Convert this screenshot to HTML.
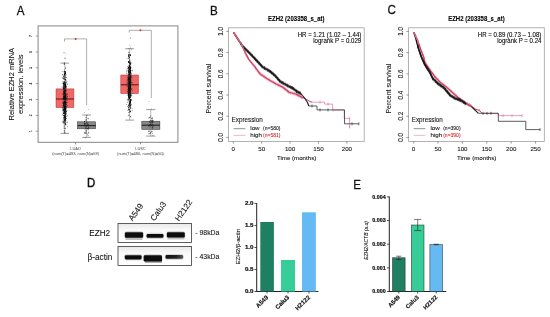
<!DOCTYPE html>
<html><head><meta charset="utf-8"><style>
html,body{margin:0;padding:0;background:#fff;}
body{width:550px;height:317px;overflow:hidden;}
svg{display:block;font-family:"Liberation Sans", sans-serif;filter:blur(0.3px);}
</style></head><body>
<svg width="550" height="317" viewBox="0 0 550 317">
<rect width="550" height="317" fill="#fff"/>
<text transform="translate(16.7 14.6) scale(0.93 1)" font-size="12.5" fill="#111" stroke="#111" stroke-width="0.28">A</text>
<rect x="38.1" y="25.9" width="139.8" height="116.4" fill="none" stroke="#858585" stroke-width="1"/>
<line x1="35.8" y1="36.1" x2="38.1" y2="36.1" stroke="#858585" stroke-width="0.8"/>
<text x="30.8" y="36.1" font-size="3.2" text-anchor="middle" fill="#111" transform="rotate(-90 30.8 36.1)" dominant-baseline="central" stroke="#111" stroke-width="0.08">7</text>
<line x1="35.8" y1="51.95" x2="38.1" y2="51.95" stroke="#858585" stroke-width="0.8"/>
<text x="30.8" y="51.95" font-size="3.2" text-anchor="middle" fill="#111" transform="rotate(-90 30.8 51.95)" dominant-baseline="central" stroke="#111" stroke-width="0.08">6</text>
<line x1="35.8" y1="67.8" x2="38.1" y2="67.8" stroke="#858585" stroke-width="0.8"/>
<text x="30.8" y="67.8" font-size="3.2" text-anchor="middle" fill="#111" transform="rotate(-90 30.8 67.8)" dominant-baseline="central" stroke="#111" stroke-width="0.08">5</text>
<line x1="35.8" y1="83.65" x2="38.1" y2="83.65" stroke="#858585" stroke-width="0.8"/>
<text x="30.8" y="83.65" font-size="3.2" text-anchor="middle" fill="#111" transform="rotate(-90 30.8 83.65)" dominant-baseline="central" stroke="#111" stroke-width="0.08">4</text>
<line x1="35.8" y1="99.5" x2="38.1" y2="99.5" stroke="#858585" stroke-width="0.8"/>
<text x="30.8" y="99.5" font-size="3.2" text-anchor="middle" fill="#111" transform="rotate(-90 30.8 99.5)" dominant-baseline="central" stroke="#111" stroke-width="0.08">3</text>
<line x1="35.8" y1="115.35" x2="38.1" y2="115.35" stroke="#858585" stroke-width="0.8"/>
<text x="30.8" y="115.35" font-size="3.2" text-anchor="middle" fill="#111" transform="rotate(-90 30.8 115.35)" dominant-baseline="central" stroke="#111" stroke-width="0.08">2</text>
<line x1="35.8" y1="131.2" x2="38.1" y2="131.2" stroke="#858585" stroke-width="0.8"/>
<text x="30.8" y="131.2" font-size="3.2" text-anchor="middle" fill="#111" transform="rotate(-90 30.8 131.2)" dominant-baseline="central" stroke="#111" stroke-width="0.08">1</text>
<text x="14.2" y="84.2" font-size="7.5" text-anchor="middle" fill="#111" transform="rotate(-90 14.2 84.2)" stroke="#111" stroke-width="0.08">Relative EZH2 mRNA</text>
<text x="23.3" y="84.2" font-size="7.5" text-anchor="middle" fill="#111" transform="rotate(-90 23.3 84.2)" stroke="#111" stroke-width="0.08">expression. levels</text>
<line x1="75.6" y1="142.3" x2="75.6" y2="144.3" stroke="#6e6e6e" stroke-width="0.8"/>
<text x="75.6" y="150.3" font-size="4.0" text-anchor="middle" fill="#666" stroke="#666" stroke-width="0.05">LUAD</text>
<text x="75.6" y="155.0" font-size="4.0" text-anchor="middle" fill="#666" stroke="#666" stroke-width="0.05">(num(T)=483, num(N)=59)</text>
<line x1="140.5" y1="142.3" x2="140.5" y2="144.3" stroke="#6e6e6e" stroke-width="0.8"/>
<text x="140.5" y="150.3" font-size="4.0" text-anchor="middle" fill="#666" stroke="#666" stroke-width="0.05">LUSC</text>
<text x="140.5" y="155.0" font-size="4.0" text-anchor="middle" fill="#666" stroke="#666" stroke-width="0.05">(num(T)=486, num(N)=50)</text>
<polyline points="64.5,41.5 64.5,38.9 86.6,38.9 86.6,105" fill="none" stroke="#777" stroke-width="0.6"/>
<circle cx="75.7" cy="38.9" r="1" fill="#e03030"/>
<polyline points="129.2,32.5 129.2,30.3 151.3,30.3 151.3,98" fill="none" stroke="#777" stroke-width="0.6"/>
<circle cx="140.4" cy="30.3" r="1" fill="#e03030"/>
<line x1="64.8" y1="63.1" x2="64.8" y2="88.9" stroke="#777" stroke-width="0.5"/>
<line x1="64.8" y1="107.6" x2="64.8" y2="133.4" stroke="#777" stroke-width="0.5"/>
<line x1="60.5" y1="63.1" x2="69.1" y2="63.1" stroke="#555" stroke-width="0.6"/>
<line x1="60.5" y1="133.4" x2="69.1" y2="133.4" stroke="#555" stroke-width="0.6"/>
<rect x="56" y="88.9" width="17.900000000000006" height="18.69999999999999" fill="#f26666" stroke="#a03838" stroke-width="0.5"/>
<line x1="56" y1="99" x2="73.9" y2="99" stroke="#6a1818" stroke-width="1.1"/>
<line x1="86.6" y1="115.0" x2="86.6" y2="121.8" stroke="#777" stroke-width="0.5"/>
<line x1="86.6" y1="128.8" x2="86.6" y2="137.4" stroke="#777" stroke-width="0.5"/>
<line x1="82.3" y1="115.0" x2="90.89999999999999" y2="115.0" stroke="#555" stroke-width="0.6"/>
<line x1="82.3" y1="137.4" x2="90.89999999999999" y2="137.4" stroke="#555" stroke-width="0.6"/>
<rect x="77.5" y="121.8" width="18.200000000000003" height="7.000000000000014" fill="#888888" stroke="#333" stroke-width="0.5"/>
<line x1="77.5" y1="125.6" x2="95.7" y2="125.6" stroke="#222" stroke-width="1.1"/>
<line x1="129.6" y1="48.7" x2="129.6" y2="75.0" stroke="#777" stroke-width="0.5"/>
<line x1="129.6" y1="93.6" x2="129.6" y2="120.1" stroke="#777" stroke-width="0.5"/>
<line x1="125.3" y1="48.7" x2="133.9" y2="48.7" stroke="#555" stroke-width="0.6"/>
<line x1="125.3" y1="120.1" x2="133.9" y2="120.1" stroke="#555" stroke-width="0.6"/>
<rect x="120.8" y="75.0" width="17.700000000000003" height="18.599999999999994" fill="#f26666" stroke="#a03838" stroke-width="0.5"/>
<line x1="120.8" y1="84.8" x2="138.5" y2="84.8" stroke="#6a1818" stroke-width="1.1"/>
<line x1="150.8" y1="109.6" x2="150.8" y2="121.2" stroke="#777" stroke-width="0.5"/>
<line x1="150.8" y1="129.4" x2="150.8" y2="136.1" stroke="#777" stroke-width="0.5"/>
<line x1="146.20000000000002" y1="109.6" x2="155.4" y2="109.6" stroke="#555" stroke-width="0.6"/>
<line x1="146.20000000000002" y1="136.1" x2="155.4" y2="136.1" stroke="#555" stroke-width="0.6"/>
<rect x="141.8" y="121.2" width="18.099999999999994" height="8.200000000000003" fill="#888888" stroke="#333" stroke-width="0.5"/>
<line x1="141.8" y1="125.2" x2="159.9" y2="125.2" stroke="#222" stroke-width="1.1"/>
<circle cx="65.16" cy="95.46" r="0.5" fill="#000"/><circle cx="63.77" cy="106.08" r="0.5" fill="#000"/><circle cx="63.74" cy="86.12" r="0.5" fill="#000"/><circle cx="64.82" cy="96.05" r="0.5" fill="#000"/><circle cx="63.77" cy="113.36" r="0.5" fill="#000"/><circle cx="63.82" cy="102.45" r="0.5" fill="#000"/><circle cx="63.90" cy="75.92" r="0.5" fill="#000"/><circle cx="64.14" cy="110.85" r="0.5" fill="#000"/><circle cx="64.99" cy="75.57" r="0.5" fill="#000"/><circle cx="64.55" cy="74.84" r="0.5" fill="#000"/><circle cx="65.66" cy="103.23" r="0.5" fill="#000"/><circle cx="64.30" cy="98.36" r="0.5" fill="#000"/><circle cx="64.34" cy="103.28" r="0.5" fill="#000"/><circle cx="65.56" cy="104.46" r="0.5" fill="#000"/><circle cx="65.13" cy="106.71" r="0.5" fill="#000"/><circle cx="64.49" cy="115.58" r="0.5" fill="#000"/><circle cx="63.74" cy="94.23" r="0.5" fill="#000"/><circle cx="64.09" cy="97.53" r="0.5" fill="#000"/><circle cx="64.35" cy="92.80" r="0.5" fill="#000"/><circle cx="65.01" cy="85.74" r="0.5" fill="#000"/><circle cx="65.51" cy="87.81" r="0.5" fill="#000"/><circle cx="65.28" cy="102.39" r="0.5" fill="#000"/><circle cx="64.86" cy="99.67" r="0.5" fill="#000"/><circle cx="65.70" cy="117.09" r="0.5" fill="#000"/><circle cx="65.95" cy="97.53" r="0.5" fill="#000"/><circle cx="63.88" cy="87.68" r="0.5" fill="#000"/><circle cx="63.96" cy="78.71" r="0.5" fill="#000"/><circle cx="64.77" cy="110.47" r="0.5" fill="#000"/><circle cx="65.43" cy="118.95" r="0.5" fill="#000"/><circle cx="64.98" cy="104.02" r="0.5" fill="#000"/><circle cx="65.27" cy="107.53" r="0.5" fill="#000"/><circle cx="65.03" cy="90.53" r="0.5" fill="#000"/><circle cx="65.62" cy="85.60" r="0.5" fill="#000"/><circle cx="65.87" cy="91.64" r="0.5" fill="#000"/><circle cx="63.75" cy="78.81" r="0.5" fill="#000"/><circle cx="65.28" cy="102.32" r="0.5" fill="#000"/><circle cx="65.57" cy="72.68" r="0.5" fill="#000"/><circle cx="64.28" cy="64.12" r="0.5" fill="#000"/><circle cx="63.65" cy="83.49" r="0.5" fill="#000"/><circle cx="64.71" cy="112.54" r="0.5" fill="#000"/><circle cx="63.74" cy="102.40" r="0.5" fill="#000"/><circle cx="65.44" cy="105.02" r="0.5" fill="#000"/><circle cx="64.54" cy="106.18" r="0.5" fill="#000"/><circle cx="65.69" cy="106.59" r="0.5" fill="#000"/><circle cx="64.92" cy="112.23" r="0.5" fill="#000"/><circle cx="65.72" cy="106.34" r="0.5" fill="#000"/><circle cx="64.27" cy="110.67" r="0.5" fill="#000"/><circle cx="64.60" cy="73.91" r="0.5" fill="#000"/><circle cx="65.90" cy="80.84" r="0.5" fill="#000"/><circle cx="63.96" cy="121.30" r="0.5" fill="#000"/><circle cx="64.16" cy="103.50" r="0.5" fill="#000"/><circle cx="64.76" cy="108.00" r="0.5" fill="#000"/><circle cx="63.61" cy="89.84" r="0.5" fill="#000"/><circle cx="64.61" cy="93.26" r="0.5" fill="#000"/><circle cx="65.89" cy="86.80" r="0.5" fill="#000"/><circle cx="65.26" cy="112.11" r="0.5" fill="#000"/><circle cx="65.22" cy="79.88" r="0.5" fill="#000"/><circle cx="63.73" cy="97.13" r="0.5" fill="#000"/><circle cx="65.70" cy="118.46" r="0.5" fill="#000"/><circle cx="65.51" cy="84.78" r="0.5" fill="#000"/><circle cx="63.85" cy="88.10" r="0.5" fill="#000"/><circle cx="65.12" cy="107.75" r="0.5" fill="#000"/><circle cx="64.10" cy="103.78" r="0.5" fill="#000"/><circle cx="63.99" cy="100.97" r="0.5" fill="#000"/><circle cx="63.60" cy="96.56" r="0.5" fill="#000"/><circle cx="63.96" cy="102.84" r="0.5" fill="#000"/><circle cx="63.66" cy="109.58" r="0.5" fill="#000"/><circle cx="65.70" cy="106.84" r="0.5" fill="#000"/><circle cx="64.21" cy="93.08" r="0.5" fill="#000"/><circle cx="64.43" cy="93.84" r="0.5" fill="#000"/><circle cx="65.64" cy="94.34" r="0.5" fill="#000"/><circle cx="65.98" cy="104.34" r="0.5" fill="#000"/><circle cx="63.81" cy="83.43" r="0.5" fill="#000"/><circle cx="63.85" cy="102.38" r="0.5" fill="#000"/><circle cx="65.59" cy="93.03" r="0.5" fill="#000"/><circle cx="63.99" cy="108.07" r="0.5" fill="#000"/><circle cx="64.87" cy="132.66" r="0.5" fill="#000"/><circle cx="63.95" cy="103.92" r="0.5" fill="#000"/><circle cx="64.87" cy="95.88" r="0.5" fill="#000"/><circle cx="65.95" cy="98.13" r="0.5" fill="#000"/><circle cx="64.23" cy="112.97" r="0.5" fill="#000"/><circle cx="64.48" cy="82.81" r="0.5" fill="#000"/><circle cx="64.88" cy="110.86" r="0.5" fill="#000"/><circle cx="65.47" cy="119.65" r="0.5" fill="#000"/><circle cx="65.55" cy="94.28" r="0.5" fill="#000"/><circle cx="65.96" cy="107.63" r="0.5" fill="#000"/><circle cx="65.56" cy="114.08" r="0.5" fill="#000"/><circle cx="65.38" cy="78.95" r="0.5" fill="#000"/><circle cx="64.45" cy="101.44" r="0.5" fill="#000"/><circle cx="63.67" cy="115.55" r="0.5" fill="#000"/><circle cx="64.22" cy="110.04" r="0.5" fill="#000"/><circle cx="65.26" cy="100.96" r="0.5" fill="#000"/><circle cx="65.85" cy="113.52" r="0.5" fill="#000"/><circle cx="65.97" cy="94.93" r="0.5" fill="#000"/><circle cx="64.13" cy="111.67" r="0.5" fill="#000"/><circle cx="64.14" cy="95.32" r="0.5" fill="#000"/><circle cx="65.10" cy="102.08" r="0.5" fill="#000"/><circle cx="65.76" cy="107.85" r="0.5" fill="#000"/><circle cx="65.17" cy="107.52" r="0.5" fill="#000"/><circle cx="65.52" cy="85.66" r="0.5" fill="#000"/><circle cx="65.78" cy="116.54" r="0.5" fill="#000"/><circle cx="65.48" cy="109.34" r="0.5" fill="#000"/><circle cx="64.03" cy="99.01" r="0.5" fill="#000"/><circle cx="65.49" cy="83.20" r="0.5" fill="#000"/><circle cx="65.93" cy="86.67" r="0.5" fill="#000"/><circle cx="64.55" cy="120.61" r="0.5" fill="#000"/><circle cx="65.34" cy="71.68" r="0.5" fill="#000"/><circle cx="64.01" cy="118.48" r="0.5" fill="#000"/><circle cx="65.77" cy="104.54" r="0.5" fill="#000"/><circle cx="65.54" cy="104.68" r="0.5" fill="#000"/><circle cx="65.95" cy="114.74" r="0.5" fill="#000"/><circle cx="65.18" cy="119.60" r="0.5" fill="#000"/><circle cx="63.91" cy="88.69" r="0.5" fill="#000"/><circle cx="63.63" cy="113.11" r="0.5" fill="#000"/><circle cx="64.86" cy="118.73" r="0.5" fill="#000"/><circle cx="65.84" cy="95.35" r="0.5" fill="#000"/><circle cx="65.58" cy="73.32" r="0.5" fill="#000"/><circle cx="64.11" cy="110.34" r="0.5" fill="#000"/><circle cx="64.18" cy="98.87" r="0.5" fill="#000"/><circle cx="65.01" cy="110.53" r="0.5" fill="#000"/><circle cx="63.91" cy="98.15" r="0.5" fill="#000"/><circle cx="65.78" cy="113.41" r="0.5" fill="#000"/><circle cx="65.00" cy="89.69" r="0.5" fill="#000"/><circle cx="65.77" cy="111.19" r="0.5" fill="#000"/><circle cx="64.80" cy="71.81" r="0.5" fill="#000"/><circle cx="64.88" cy="113.81" r="0.5" fill="#000"/><circle cx="64.66" cy="96.34" r="0.5" fill="#000"/><circle cx="64.04" cy="98.60" r="0.5" fill="#000"/><circle cx="64.01" cy="123.81" r="0.5" fill="#000"/><circle cx="64.74" cy="99.61" r="0.5" fill="#000"/><circle cx="64.38" cy="96.26" r="0.5" fill="#000"/><circle cx="64.84" cy="81.55" r="0.5" fill="#000"/><circle cx="63.85" cy="76.20" r="0.5" fill="#000"/><circle cx="64.94" cy="90.72" r="0.5" fill="#000"/><circle cx="65.45" cy="99.11" r="0.5" fill="#000"/><circle cx="64.82" cy="110.15" r="0.5" fill="#000"/><circle cx="65.79" cy="77.34" r="0.5" fill="#000"/><circle cx="64.66" cy="90.15" r="0.5" fill="#000"/><circle cx="64.83" cy="86.50" r="0.5" fill="#000"/><circle cx="65.26" cy="88.32" r="0.5" fill="#000"/><circle cx="64.75" cy="82.66" r="0.5" fill="#000"/><circle cx="65.86" cy="104.04" r="0.5" fill="#000"/><circle cx="65.86" cy="90.11" r="0.5" fill="#000"/><circle cx="64.22" cy="72.10" r="0.5" fill="#000"/><circle cx="65.62" cy="68.11" r="0.5" fill="#000"/><circle cx="63.93" cy="86.88" r="0.5" fill="#000"/><circle cx="63.77" cy="109.80" r="0.5" fill="#000"/><circle cx="64.18" cy="109.36" r="0.5" fill="#000"/><circle cx="65.48" cy="117.47" r="0.5" fill="#000"/><circle cx="65.75" cy="108.14" r="0.5" fill="#000"/><circle cx="65.18" cy="111.42" r="0.5" fill="#000"/><circle cx="63.94" cy="117.14" r="0.5" fill="#000"/><circle cx="64.13" cy="125.88" r="0.5" fill="#000"/><circle cx="65.89" cy="74.65" r="0.5" fill="#000"/><circle cx="65.98" cy="86.15" r="0.5" fill="#000"/><circle cx="65.60" cy="108.55" r="0.5" fill="#000"/><circle cx="64.84" cy="106.77" r="0.5" fill="#000"/><circle cx="64.41" cy="111.50" r="0.5" fill="#000"/><circle cx="65.33" cy="103.06" r="0.5" fill="#000"/><circle cx="63.65" cy="110.43" r="0.5" fill="#000"/><circle cx="63.64" cy="84.93" r="0.5" fill="#000"/><circle cx="64.40" cy="94.03" r="0.5" fill="#000"/><circle cx="63.75" cy="87.18" r="0.5" fill="#000"/><circle cx="65.96" cy="87.34" r="0.5" fill="#000"/><circle cx="63.85" cy="107.83" r="0.5" fill="#000"/><circle cx="64.24" cy="63.08" r="0.5" fill="#000"/><circle cx="64.25" cy="122.33" r="0.5" fill="#000"/><circle cx="63.91" cy="104.93" r="0.5" fill="#000"/><circle cx="65.57" cy="72.07" r="0.5" fill="#000"/><circle cx="64.22" cy="113.31" r="0.5" fill="#000"/><circle cx="64.97" cy="117.36" r="0.5" fill="#000"/><circle cx="65.28" cy="124.06" r="0.5" fill="#000"/><circle cx="65.25" cy="103.03" r="0.5" fill="#000"/><circle cx="64.62" cy="101.54" r="0.5" fill="#000"/><circle cx="65.12" cy="128.37" r="0.5" fill="#000"/><circle cx="65.52" cy="113.37" r="0.5" fill="#000"/><circle cx="63.76" cy="122.59" r="0.5" fill="#000"/><circle cx="65.67" cy="112.70" r="0.5" fill="#000"/><circle cx="64.93" cy="86.92" r="0.5" fill="#000"/><circle cx="65.82" cy="102.61" r="0.5" fill="#000"/><circle cx="64.86" cy="98.18" r="0.5" fill="#000"/><circle cx="64.17" cy="106.24" r="0.5" fill="#000"/><circle cx="63.72" cy="105.35" r="0.5" fill="#000"/><circle cx="64.08" cy="104.22" r="0.5" fill="#000"/><circle cx="65.42" cy="94.51" r="0.5" fill="#000"/><circle cx="64.30" cy="109.93" r="0.5" fill="#000"/><circle cx="64.43" cy="90.33" r="0.5" fill="#000"/><circle cx="63.64" cy="99.00" r="0.5" fill="#000"/><circle cx="65.36" cy="98.99" r="0.5" fill="#000"/><circle cx="64.92" cy="101.44" r="0.5" fill="#000"/><circle cx="65.84" cy="104.84" r="0.5" fill="#000"/><circle cx="63.86" cy="113.60" r="0.5" fill="#000"/><circle cx="64.79" cy="105.18" r="0.5" fill="#000"/><circle cx="65.60" cy="85.62" r="0.5" fill="#000"/><circle cx="65.25" cy="86.11" r="0.5" fill="#000"/><circle cx="65.96" cy="109.25" r="0.5" fill="#000"/><circle cx="65.30" cy="84.60" r="0.5" fill="#000"/><circle cx="65.13" cy="120.86" r="0.5" fill="#000"/><circle cx="63.73" cy="88.43" r="0.5" fill="#000"/><circle cx="63.91" cy="106.22" r="0.5" fill="#000"/><circle cx="64.21" cy="119.55" r="0.5" fill="#000"/><circle cx="63.99" cy="108.79" r="0.5" fill="#000"/><circle cx="65.69" cy="121.92" r="0.5" fill="#000"/><circle cx="65.21" cy="112.45" r="0.5" fill="#000"/><circle cx="64.30" cy="96.94" r="0.5" fill="#000"/><circle cx="64.70" cy="109.11" r="0.5" fill="#000"/><circle cx="64.23" cy="107.26" r="0.5" fill="#000"/><circle cx="65.91" cy="111.58" r="0.5" fill="#000"/><circle cx="64.19" cy="116.18" r="0.5" fill="#000"/><circle cx="65.92" cy="96.02" r="0.5" fill="#000"/><circle cx="63.60" cy="94.25" r="0.5" fill="#000"/><circle cx="64.52" cy="111.11" r="0.5" fill="#000"/><circle cx="64.08" cy="82.83" r="0.5" fill="#000"/><circle cx="64.81" cy="101.60" r="0.5" fill="#000"/><circle cx="63.82" cy="109.84" r="0.5" fill="#000"/><circle cx="64.56" cy="99.34" r="0.5" fill="#000"/><circle cx="64.33" cy="101.85" r="0.5" fill="#000"/><circle cx="64.16" cy="99.76" r="0.5" fill="#000"/><circle cx="65.40" cy="84.40" r="0.5" fill="#000"/><circle cx="65.18" cy="90.29" r="0.5" fill="#000"/><circle cx="64.53" cy="92.96" r="0.5" fill="#000"/><circle cx="64.38" cy="71.17" r="0.5" fill="#000"/><circle cx="65.34" cy="106.85" r="0.5" fill="#000"/><circle cx="65.14" cy="98.24" r="0.5" fill="#000"/><circle cx="65.74" cy="124.32" r="0.5" fill="#000"/><circle cx="65.11" cy="106.15" r="0.5" fill="#000"/><circle cx="63.93" cy="96.43" r="0.5" fill="#000"/><circle cx="64.86" cy="73.80" r="0.5" fill="#000"/><circle cx="65.53" cy="72.72" r="0.5" fill="#000"/><circle cx="65.58" cy="98.28" r="0.5" fill="#000"/><circle cx="65.24" cy="73.71" r="0.5" fill="#000"/><circle cx="65.26" cy="84.25" r="0.5" fill="#000"/><circle cx="63.92" cy="99.44" r="0.5" fill="#000"/><circle cx="64.47" cy="102.46" r="0.5" fill="#000"/><circle cx="64.94" cy="119.81" r="0.5" fill="#000"/><circle cx="65.11" cy="115.13" r="0.5" fill="#000"/><circle cx="64.77" cy="84.31" r="0.5" fill="#000"/><circle cx="63.61" cy="84.09" r="0.5" fill="#000"/><circle cx="64.81" cy="105.79" r="0.5" fill="#000"/><circle cx="64.88" cy="77.02" r="0.5" fill="#000"/><circle cx="65.37" cy="96.24" r="0.5" fill="#000"/><circle cx="64.21" cy="94.69" r="0.5" fill="#000"/><circle cx="65.35" cy="108.71" r="0.5" fill="#000"/><circle cx="64.09" cy="103.91" r="0.5" fill="#000"/><circle cx="64.79" cy="96.59" r="0.5" fill="#000"/><circle cx="65.24" cy="87.30" r="0.5" fill="#000"/><circle cx="65.44" cy="109.64" r="0.5" fill="#000"/><circle cx="63.79" cy="84.26" r="0.5" fill="#000"/><circle cx="63.95" cy="85.67" r="0.5" fill="#000"/><circle cx="64.33" cy="98.43" r="0.5" fill="#000"/><circle cx="64.96" cy="121.83" r="0.5" fill="#000"/><circle cx="64.25" cy="103.89" r="0.5" fill="#000"/><circle cx="65.21" cy="99.38" r="0.5" fill="#000"/><circle cx="64.30" cy="91.61" r="0.5" fill="#000"/><circle cx="64.84" cy="79.57" r="0.5" fill="#000"/><circle cx="63.88" cy="83.86" r="0.5" fill="#000"/><circle cx="65.74" cy="102.42" r="0.5" fill="#000"/><circle cx="65.85" cy="111.01" r="0.5" fill="#000"/><circle cx="65.57" cy="114.26" r="0.5" fill="#000"/><circle cx="65.92" cy="100.69" r="0.5" fill="#000"/><circle cx="64.10" cy="88.59" r="0.5" fill="#000"/><circle cx="65.87" cy="102.42" r="0.5" fill="#000"/><circle cx="63.94" cy="103.47" r="0.5" fill="#000"/><circle cx="64.86" cy="116.73" r="0.5" fill="#000"/><circle cx="65.57" cy="106.07" r="0.5" fill="#000"/><circle cx="64.82" cy="96.84" r="0.5" fill="#000"/><circle cx="64.16" cy="115.36" r="0.5" fill="#000"/><circle cx="65.75" cy="84.91" r="0.5" fill="#000"/><circle cx="63.61" cy="95.91" r="0.5" fill="#000"/><circle cx="64.78" cy="99.27" r="0.5" fill="#000"/><circle cx="63.94" cy="87.81" r="0.5" fill="#000"/><circle cx="64.43" cy="102.58" r="0.5" fill="#000"/><circle cx="63.60" cy="88.30" r="0.5" fill="#000"/><circle cx="65.40" cy="123.28" r="0.5" fill="#000"/><circle cx="65.82" cy="102.72" r="0.5" fill="#000"/><circle cx="65.31" cy="93.06" r="0.5" fill="#000"/><circle cx="64.49" cy="108.34" r="0.5" fill="#000"/><circle cx="64.54" cy="92.36" r="0.5" fill="#000"/><circle cx="64.47" cy="117.48" r="0.5" fill="#000"/><circle cx="64.63" cy="98.86" r="0.5" fill="#000"/><circle cx="63.84" cy="98.31" r="0.5" fill="#000"/><circle cx="65.60" cy="103.30" r="0.5" fill="#000"/><circle cx="64.20" cy="91.80" r="0.5" fill="#000"/><circle cx="64.24" cy="130.63" r="0.5" fill="#000"/><circle cx="64.50" cy="90.03" r="0.5" fill="#000"/><circle cx="65.89" cy="98.38" r="0.5" fill="#000"/><circle cx="65.11" cy="117.92" r="0.5" fill="#000"/><circle cx="65.79" cy="82.17" r="0.5" fill="#000"/><circle cx="65.33" cy="115.29" r="0.5" fill="#000"/><circle cx="63.72" cy="92.63" r="0.5" fill="#000"/><circle cx="65.41" cy="97.32" r="0.5" fill="#000"/><circle cx="65.15" cy="83.93" r="0.5" fill="#000"/><circle cx="65.82" cy="98.01" r="0.5" fill="#000"/><circle cx="63.91" cy="103.28" r="0.5" fill="#000"/><circle cx="64.31" cy="86.48" r="0.5" fill="#000"/><circle cx="65.37" cy="101.21" r="0.5" fill="#000"/><circle cx="65.17" cy="109.63" r="0.5" fill="#000"/><circle cx="64.32" cy="97.40" r="0.5" fill="#000"/><circle cx="64.00" cy="86.02" r="0.5" fill="#000"/><circle cx="63.99" cy="94.11" r="0.5" fill="#000"/><circle cx="64.79" cy="106.88" r="0.5" fill="#000"/><circle cx="64.13" cy="128.07" r="0.5" fill="#000"/><circle cx="64.68" cy="73.14" r="0.5" fill="#000"/><circle cx="63.82" cy="104.79" r="0.5" fill="#000"/><circle cx="64.42" cy="105.96" r="0.5" fill="#000"/><circle cx="64.22" cy="107.61" r="0.5" fill="#000"/><circle cx="64.97" cy="104.55" r="0.5" fill="#000"/><circle cx="64.59" cy="116.51" r="0.5" fill="#000"/><circle cx="64.59" cy="84.00" r="0.5" fill="#000"/><circle cx="64.41" cy="85.68" r="0.5" fill="#000"/><circle cx="63.75" cy="96.96" r="0.5" fill="#000"/><circle cx="63.90" cy="92.76" r="0.5" fill="#000"/><circle cx="65.67" cy="79.48" r="0.5" fill="#000"/><circle cx="64.12" cy="98.58" r="0.5" fill="#000"/><circle cx="64.56" cy="97.62" r="0.5" fill="#000"/><circle cx="64.67" cy="109.38" r="0.5" fill="#000"/><circle cx="65.69" cy="124.80" r="0.5" fill="#000"/><circle cx="63.65" cy="91.32" r="0.5" fill="#000"/><circle cx="65.75" cy="120.33" r="0.5" fill="#000"/><circle cx="64.74" cy="103.38" r="0.5" fill="#000"/><circle cx="64.54" cy="98.78" r="0.5" fill="#000"/><circle cx="65.82" cy="98.86" r="0.5" fill="#000"/><circle cx="65.93" cy="111.46" r="0.5" fill="#000"/><circle cx="64.20" cy="74.77" r="0.5" fill="#000"/><circle cx="64.85" cy="105.21" r="0.5" fill="#000"/><circle cx="65.24" cy="104.08" r="0.5" fill="#000"/><circle cx="65.15" cy="119.68" r="0.5" fill="#000"/><circle cx="65.44" cy="91.04" r="0.5" fill="#000"/><circle cx="63.69" cy="82.09" r="0.5" fill="#000"/><circle cx="65.48" cy="103.65" r="0.5" fill="#000"/><circle cx="65.81" cy="53.79" r="0.4" fill="#555"/><circle cx="64.33" cy="58.75" r="0.4" fill="#555"/><circle cx="64.20" cy="52.54" r="0.4" fill="#555"/><circle cx="65.28" cy="58.64" r="0.4" fill="#555"/><circle cx="63.77" cy="52.35" r="0.4" fill="#555"/><circle cx="65.00" cy="57.29" r="0.4" fill="#555"/>
<circle cx="65.37" cy="91.48" r="0.42" fill="#333"/><circle cx="62.06" cy="105.37" r="0.42" fill="#333"/><circle cx="67.37" cy="94.10" r="0.42" fill="#333"/><circle cx="65.61" cy="113.59" r="0.42" fill="#333"/><circle cx="63.31" cy="110.72" r="0.42" fill="#333"/><circle cx="63.38" cy="88.51" r="0.42" fill="#333"/><circle cx="63.72" cy="119.97" r="0.42" fill="#333"/><circle cx="62.12" cy="93.70" r="0.42" fill="#333"/><circle cx="64.35" cy="78.25" r="0.42" fill="#333"/><circle cx="63.44" cy="99.22" r="0.42" fill="#333"/><circle cx="63.27" cy="83.35" r="0.42" fill="#333"/><circle cx="62.19" cy="71.62" r="0.42" fill="#333"/><circle cx="65.82" cy="91.40" r="0.42" fill="#333"/><circle cx="63.11" cy="111.31" r="0.42" fill="#333"/><circle cx="64.83" cy="105.62" r="0.42" fill="#333"/><circle cx="63.15" cy="77.28" r="0.42" fill="#333"/><circle cx="66.59" cy="110.76" r="0.42" fill="#333"/><circle cx="63.29" cy="96.75" r="0.42" fill="#333"/><circle cx="63.65" cy="103.18" r="0.42" fill="#333"/><circle cx="67.33" cy="122.04" r="0.42" fill="#333"/><circle cx="63.25" cy="90.08" r="0.42" fill="#333"/><circle cx="64.34" cy="99.24" r="0.42" fill="#333"/><circle cx="62.82" cy="81.86" r="0.42" fill="#333"/><circle cx="64.20" cy="69.90" r="0.42" fill="#333"/><circle cx="62.79" cy="107.64" r="0.42" fill="#333"/><circle cx="64.20" cy="103.62" r="0.42" fill="#333"/><circle cx="67.03" cy="100.56" r="0.42" fill="#333"/><circle cx="67.59" cy="115.75" r="0.42" fill="#333"/><circle cx="67.22" cy="83.97" r="0.42" fill="#333"/><circle cx="67.24" cy="94.76" r="0.42" fill="#333"/><circle cx="66.18" cy="106.80" r="0.42" fill="#333"/><circle cx="64.12" cy="119.06" r="0.42" fill="#333"/><circle cx="64.09" cy="103.07" r="0.42" fill="#333"/><circle cx="62.02" cy="94.86" r="0.42" fill="#333"/><circle cx="63.57" cy="106.35" r="0.42" fill="#333"/><circle cx="62.69" cy="78.43" r="0.42" fill="#333"/><circle cx="67.40" cy="126.77" r="0.42" fill="#333"/><circle cx="66.60" cy="102.44" r="0.42" fill="#333"/><circle cx="66.60" cy="111.55" r="0.42" fill="#333"/><circle cx="64.65" cy="94.99" r="0.42" fill="#333"/><circle cx="64.09" cy="100.81" r="0.42" fill="#333"/><circle cx="64.04" cy="106.94" r="0.42" fill="#333"/><circle cx="67.02" cy="94.60" r="0.42" fill="#333"/><circle cx="66.55" cy="112.99" r="0.42" fill="#333"/><circle cx="66.29" cy="101.69" r="0.42" fill="#333"/><circle cx="62.35" cy="102.57" r="0.42" fill="#333"/><circle cx="67.15" cy="99.93" r="0.42" fill="#333"/><circle cx="67.03" cy="97.99" r="0.42" fill="#333"/><circle cx="63.90" cy="121.95" r="0.42" fill="#333"/><circle cx="65.46" cy="94.13" r="0.42" fill="#333"/><circle cx="63.77" cy="97.32" r="0.42" fill="#333"/><circle cx="63.54" cy="120.93" r="0.42" fill="#333"/><circle cx="67.13" cy="122.25" r="0.42" fill="#333"/><circle cx="65.55" cy="99.55" r="0.42" fill="#333"/><circle cx="63.31" cy="101.88" r="0.42" fill="#333"/><circle cx="64.66" cy="97.93" r="0.42" fill="#333"/><circle cx="64.16" cy="132.10" r="0.42" fill="#333"/><circle cx="63.41" cy="89.78" r="0.42" fill="#333"/><circle cx="67.20" cy="84.38" r="0.42" fill="#333"/><circle cx="63.02" cy="105.88" r="0.42" fill="#333"/><circle cx="66.61" cy="106.36" r="0.42" fill="#333"/><circle cx="66.33" cy="77.54" r="0.42" fill="#333"/><circle cx="63.79" cy="89.35" r="0.42" fill="#333"/><circle cx="64.03" cy="91.30" r="0.42" fill="#333"/><circle cx="63.10" cy="100.13" r="0.42" fill="#333"/><circle cx="66.22" cy="93.49" r="0.42" fill="#333"/><circle cx="62.19" cy="99.09" r="0.42" fill="#333"/><circle cx="65.09" cy="104.07" r="0.42" fill="#333"/><circle cx="66.95" cy="81.22" r="0.42" fill="#333"/><circle cx="62.47" cy="109.84" r="0.42" fill="#333"/><circle cx="62.54" cy="98.17" r="0.42" fill="#333"/><circle cx="64.50" cy="77.21" r="0.42" fill="#333"/><circle cx="63.31" cy="99.21" r="0.42" fill="#333"/><circle cx="65.78" cy="82.29" r="0.42" fill="#333"/><circle cx="66.19" cy="108.62" r="0.42" fill="#333"/><circle cx="62.68" cy="110.72" r="0.42" fill="#333"/><circle cx="66.71" cy="82.21" r="0.42" fill="#333"/><circle cx="64.09" cy="94.13" r="0.42" fill="#333"/><circle cx="66.13" cy="116.25" r="0.42" fill="#333"/><circle cx="63.37" cy="102.28" r="0.42" fill="#333"/><circle cx="62.86" cy="108.92" r="0.42" fill="#333"/><circle cx="63.83" cy="112.59" r="0.42" fill="#333"/><circle cx="64.22" cy="86.89" r="0.42" fill="#333"/><circle cx="63.30" cy="115.46" r="0.42" fill="#333"/><circle cx="66.53" cy="98.22" r="0.42" fill="#333"/><circle cx="62.57" cy="74.75" r="0.42" fill="#333"/><circle cx="64.66" cy="64.11" r="0.42" fill="#333"/><circle cx="67.12" cy="110.17" r="0.42" fill="#333"/><circle cx="62.23" cy="74.92" r="0.42" fill="#333"/><circle cx="63.06" cy="97.11" r="0.42" fill="#333"/><circle cx="67.45" cy="105.72" r="0.42" fill="#333"/><circle cx="64.08" cy="71.31" r="0.42" fill="#333"/><circle cx="66.85" cy="83.04" r="0.42" fill="#333"/><circle cx="66.36" cy="88.80" r="0.42" fill="#333"/><circle cx="67.30" cy="102.38" r="0.42" fill="#333"/><circle cx="65.47" cy="113.68" r="0.42" fill="#333"/><circle cx="63.22" cy="110.50" r="0.42" fill="#333"/><circle cx="63.14" cy="93.81" r="0.42" fill="#333"/><circle cx="63.43" cy="104.62" r="0.42" fill="#333"/><circle cx="63.14" cy="82.68" r="0.42" fill="#333"/><circle cx="62.06" cy="87.23" r="0.42" fill="#333"/><circle cx="63.04" cy="89.27" r="0.42" fill="#333"/><circle cx="63.75" cy="117.45" r="0.42" fill="#333"/><circle cx="65.07" cy="106.12" r="0.42" fill="#333"/><circle cx="62.35" cy="122.62" r="0.42" fill="#333"/><circle cx="65.08" cy="110.17" r="0.42" fill="#333"/><circle cx="65.58" cy="107.26" r="0.42" fill="#333"/><circle cx="65.89" cy="105.96" r="0.42" fill="#333"/><circle cx="64.29" cy="103.49" r="0.42" fill="#333"/><circle cx="67.34" cy="96.53" r="0.42" fill="#333"/><circle cx="63.75" cy="110.62" r="0.42" fill="#333"/><circle cx="64.33" cy="87.10" r="0.42" fill="#333"/><circle cx="66.84" cy="93.71" r="0.42" fill="#333"/><circle cx="63.10" cy="112.17" r="0.42" fill="#333"/><circle cx="66.08" cy="98.72" r="0.42" fill="#333"/><circle cx="67.05" cy="99.43" r="0.42" fill="#333"/><circle cx="64.37" cy="100.44" r="0.42" fill="#333"/><circle cx="66.94" cy="105.05" r="0.42" fill="#333"/><circle cx="64.58" cy="86.22" r="0.42" fill="#333"/><circle cx="65.09" cy="100.25" r="0.42" fill="#333"/><circle cx="65.59" cy="101.04" r="0.42" fill="#333"/><circle cx="65.48" cy="104.05" r="0.42" fill="#333"/><circle cx="64.08" cy="95.79" r="0.42" fill="#333"/><circle cx="63.59" cy="91.22" r="0.42" fill="#333"/><circle cx="64.92" cy="98.78" r="0.42" fill="#333"/><circle cx="64.75" cy="104.93" r="0.42" fill="#333"/><circle cx="66.51" cy="96.00" r="0.42" fill="#333"/><circle cx="62.71" cy="107.99" r="0.42" fill="#333"/><circle cx="67.28" cy="97.10" r="0.42" fill="#333"/><circle cx="62.30" cy="114.72" r="0.42" fill="#333"/><circle cx="67.19" cy="96.57" r="0.42" fill="#333"/><circle cx="65.47" cy="76.14" r="0.42" fill="#333"/><circle cx="66.62" cy="118.43" r="0.42" fill="#333"/><circle cx="63.24" cy="111.99" r="0.42" fill="#333"/><circle cx="64.27" cy="119.55" r="0.42" fill="#333"/><circle cx="63.02" cy="113.82" r="0.42" fill="#333"/><circle cx="63.22" cy="77.59" r="0.42" fill="#333"/><circle cx="64.15" cy="85.48" r="0.42" fill="#333"/><circle cx="62.69" cy="108.86" r="0.42" fill="#333"/><circle cx="67.02" cy="99.41" r="0.42" fill="#333"/><circle cx="62.23" cy="121.25" r="0.42" fill="#333"/><circle cx="62.21" cy="77.45" r="0.42" fill="#333"/><circle cx="66.69" cy="90.10" r="0.42" fill="#333"/><circle cx="65.08" cy="112.84" r="0.42" fill="#333"/><circle cx="65.51" cy="111.63" r="0.42" fill="#333"/><circle cx="65.26" cy="94.00" r="0.42" fill="#333"/><circle cx="64.38" cy="112.57" r="0.42" fill="#333"/><circle cx="64.45" cy="90.83" r="0.42" fill="#333"/><circle cx="62.13" cy="86.33" r="0.42" fill="#333"/><circle cx="63.32" cy="87.21" r="0.42" fill="#333"/><circle cx="66.28" cy="88.09" r="0.42" fill="#333"/><circle cx="63.01" cy="101.87" r="0.42" fill="#333"/><circle cx="64.65" cy="83.93" r="0.42" fill="#333"/><circle cx="64.41" cy="104.68" r="0.42" fill="#333"/><circle cx="62.51" cy="103.53" r="0.42" fill="#333"/><circle cx="62.23" cy="83.54" r="0.42" fill="#333"/><circle cx="65.56" cy="104.90" r="0.42" fill="#333"/><circle cx="66.35" cy="118.59" r="0.42" fill="#333"/><circle cx="64.86" cy="110.13" r="0.42" fill="#333"/><circle cx="64.12" cy="114.46" r="0.42" fill="#333"/>
<circle cx="88.67" cy="127.93" r="0.45" fill="#111"/><circle cx="88.88" cy="132.98" r="0.45" fill="#111"/><circle cx="87.67" cy="134.08" r="0.45" fill="#111"/><circle cx="88.82" cy="127.17" r="0.45" fill="#111"/><circle cx="86.56" cy="122.31" r="0.45" fill="#111"/><circle cx="85.06" cy="137.77" r="0.45" fill="#111"/><circle cx="87.93" cy="122.33" r="0.45" fill="#111"/><circle cx="85.91" cy="127.58" r="0.45" fill="#111"/><circle cx="87.78" cy="124.82" r="0.45" fill="#111"/><circle cx="85.56" cy="132.20" r="0.45" fill="#111"/><circle cx="88.05" cy="135.77" r="0.45" fill="#111"/><circle cx="88.53" cy="129.82" r="0.45" fill="#111"/><circle cx="85.26" cy="130.92" r="0.45" fill="#111"/><circle cx="85.77" cy="125.16" r="0.45" fill="#111"/><circle cx="84.47" cy="132.36" r="0.45" fill="#111"/><circle cx="88.61" cy="127.08" r="0.45" fill="#111"/><circle cx="87.43" cy="128.74" r="0.45" fill="#111"/><circle cx="87.91" cy="128.41" r="0.45" fill="#111"/><circle cx="84.83" cy="123.61" r="0.45" fill="#111"/><circle cx="85.95" cy="117.84" r="0.45" fill="#111"/><circle cx="88.32" cy="124.16" r="0.45" fill="#111"/><circle cx="88.36" cy="118.73" r="0.45" fill="#111"/><circle cx="84.78" cy="123.18" r="0.45" fill="#111"/><circle cx="86.11" cy="133.63" r="0.45" fill="#111"/><circle cx="87.97" cy="125.35" r="0.45" fill="#111"/><circle cx="86.96" cy="124.11" r="0.45" fill="#111"/><circle cx="86.33" cy="119.58" r="0.45" fill="#111"/><circle cx="85.11" cy="133.07" r="0.45" fill="#111"/><circle cx="88.07" cy="125.63" r="0.45" fill="#111"/><circle cx="85.47" cy="123.93" r="0.45" fill="#111"/><circle cx="87.00" cy="115.32" r="0.45" fill="#111"/><circle cx="84.31" cy="123.18" r="0.45" fill="#111"/><circle cx="84.46" cy="121.52" r="0.45" fill="#111"/><circle cx="86.29" cy="130.30" r="0.45" fill="#111"/><circle cx="86.66" cy="131.98" r="0.45" fill="#111"/><circle cx="85.35" cy="128.07" r="0.45" fill="#111"/><circle cx="87.30" cy="123.87" r="0.45" fill="#111"/><circle cx="85.93" cy="126.10" r="0.45" fill="#111"/><circle cx="84.79" cy="125.76" r="0.45" fill="#111"/><circle cx="86.98" cy="123.20" r="0.45" fill="#111"/><circle cx="87.01" cy="128.84" r="0.45" fill="#111"/><circle cx="86.48" cy="127.94" r="0.45" fill="#111"/><circle cx="84.92" cy="133.25" r="0.45" fill="#111"/><circle cx="84.99" cy="129.58" r="0.45" fill="#111"/><circle cx="84.74" cy="124.07" r="0.45" fill="#111"/><circle cx="87.90" cy="118.34" r="0.45" fill="#111"/><circle cx="86.15" cy="117.00" r="0.45" fill="#111"/><circle cx="87.27" cy="125.62" r="0.45" fill="#111"/><circle cx="86.89" cy="126.55" r="0.45" fill="#111"/><circle cx="86.34" cy="120.92" r="0.45" fill="#111"/><circle cx="88.61" cy="132.25" r="0.45" fill="#111"/><circle cx="88.46" cy="125.26" r="0.45" fill="#111"/><circle cx="84.50" cy="121.47" r="0.45" fill="#111"/><circle cx="85.39" cy="120.07" r="0.45" fill="#111"/><circle cx="84.57" cy="124.57" r="0.45" fill="#111"/><circle cx="84.36" cy="112.35" r="0.4" fill="#555"/><circle cx="88.63" cy="109.61" r="0.4" fill="#555"/>
<circle cx="129.86" cy="90.56" r="0.5" fill="#000"/><circle cx="129.62" cy="91.97" r="0.5" fill="#000"/><circle cx="128.82" cy="68.90" r="0.5" fill="#000"/><circle cx="129.14" cy="65.19" r="0.5" fill="#000"/><circle cx="130.53" cy="83.45" r="0.5" fill="#000"/><circle cx="130.28" cy="88.93" r="0.5" fill="#000"/><circle cx="130.43" cy="84.46" r="0.5" fill="#000"/><circle cx="130.19" cy="83.28" r="0.5" fill="#000"/><circle cx="129.49" cy="62.67" r="0.5" fill="#000"/><circle cx="128.94" cy="89.71" r="0.5" fill="#000"/><circle cx="128.49" cy="92.70" r="0.5" fill="#000"/><circle cx="129.21" cy="90.95" r="0.5" fill="#000"/><circle cx="130.43" cy="84.75" r="0.5" fill="#000"/><circle cx="130.11" cy="63.56" r="0.5" fill="#000"/><circle cx="129.45" cy="83.04" r="0.5" fill="#000"/><circle cx="130.29" cy="102.22" r="0.5" fill="#000"/><circle cx="129.94" cy="74.10" r="0.5" fill="#000"/><circle cx="130.72" cy="83.23" r="0.5" fill="#000"/><circle cx="128.44" cy="90.64" r="0.5" fill="#000"/><circle cx="129.02" cy="112.57" r="0.5" fill="#000"/><circle cx="130.67" cy="86.78" r="0.5" fill="#000"/><circle cx="130.19" cy="107.45" r="0.5" fill="#000"/><circle cx="129.19" cy="71.62" r="0.5" fill="#000"/><circle cx="128.97" cy="109.93" r="0.5" fill="#000"/><circle cx="130.06" cy="101.06" r="0.5" fill="#000"/><circle cx="130.00" cy="74.13" r="0.5" fill="#000"/><circle cx="130.42" cy="100.18" r="0.5" fill="#000"/><circle cx="130.07" cy="82.76" r="0.5" fill="#000"/><circle cx="130.14" cy="94.04" r="0.5" fill="#000"/><circle cx="129.77" cy="73.27" r="0.5" fill="#000"/><circle cx="129.89" cy="81.42" r="0.5" fill="#000"/><circle cx="128.59" cy="93.69" r="0.5" fill="#000"/><circle cx="128.46" cy="91.32" r="0.5" fill="#000"/><circle cx="128.66" cy="80.71" r="0.5" fill="#000"/><circle cx="128.74" cy="96.23" r="0.5" fill="#000"/><circle cx="128.47" cy="79.33" r="0.5" fill="#000"/><circle cx="129.92" cy="105.24" r="0.5" fill="#000"/><circle cx="130.07" cy="90.28" r="0.5" fill="#000"/><circle cx="129.82" cy="84.38" r="0.5" fill="#000"/><circle cx="129.27" cy="79.74" r="0.5" fill="#000"/><circle cx="130.54" cy="95.30" r="0.5" fill="#000"/><circle cx="128.56" cy="61.57" r="0.5" fill="#000"/><circle cx="130.67" cy="105.40" r="0.5" fill="#000"/><circle cx="128.66" cy="62.24" r="0.5" fill="#000"/><circle cx="128.48" cy="86.64" r="0.5" fill="#000"/><circle cx="130.43" cy="91.26" r="0.5" fill="#000"/><circle cx="130.38" cy="92.22" r="0.5" fill="#000"/><circle cx="129.92" cy="66.73" r="0.5" fill="#000"/><circle cx="128.63" cy="83.33" r="0.5" fill="#000"/><circle cx="130.22" cy="90.95" r="0.5" fill="#000"/><circle cx="129.42" cy="88.17" r="0.5" fill="#000"/><circle cx="128.45" cy="96.40" r="0.5" fill="#000"/><circle cx="130.12" cy="84.33" r="0.5" fill="#000"/><circle cx="129.28" cy="96.02" r="0.5" fill="#000"/><circle cx="129.61" cy="69.51" r="0.5" fill="#000"/><circle cx="130.44" cy="116.87" r="0.5" fill="#000"/><circle cx="129.39" cy="82.25" r="0.5" fill="#000"/><circle cx="129.45" cy="82.46" r="0.5" fill="#000"/><circle cx="130.09" cy="86.63" r="0.5" fill="#000"/><circle cx="129.69" cy="72.22" r="0.5" fill="#000"/><circle cx="128.62" cy="90.52" r="0.5" fill="#000"/><circle cx="130.37" cy="111.63" r="0.5" fill="#000"/><circle cx="128.88" cy="85.14" r="0.5" fill="#000"/><circle cx="130.23" cy="85.42" r="0.5" fill="#000"/><circle cx="129.58" cy="86.08" r="0.5" fill="#000"/><circle cx="129.58" cy="84.62" r="0.5" fill="#000"/><circle cx="129.59" cy="87.35" r="0.5" fill="#000"/><circle cx="129.23" cy="76.38" r="0.5" fill="#000"/><circle cx="130.67" cy="90.07" r="0.5" fill="#000"/><circle cx="129.08" cy="75.48" r="0.5" fill="#000"/><circle cx="129.60" cy="89.50" r="0.5" fill="#000"/><circle cx="128.66" cy="105.64" r="0.5" fill="#000"/><circle cx="130.29" cy="81.10" r="0.5" fill="#000"/><circle cx="130.07" cy="80.52" r="0.5" fill="#000"/><circle cx="129.25" cy="89.26" r="0.5" fill="#000"/><circle cx="129.36" cy="65.95" r="0.5" fill="#000"/><circle cx="128.61" cy="61.95" r="0.5" fill="#000"/><circle cx="130.53" cy="102.62" r="0.5" fill="#000"/><circle cx="129.03" cy="94.04" r="0.5" fill="#000"/><circle cx="130.56" cy="86.27" r="0.5" fill="#000"/><circle cx="130.52" cy="71.34" r="0.5" fill="#000"/><circle cx="128.96" cy="84.70" r="0.5" fill="#000"/><circle cx="130.21" cy="68.34" r="0.5" fill="#000"/><circle cx="130.21" cy="88.93" r="0.5" fill="#000"/><circle cx="129.18" cy="77.07" r="0.5" fill="#000"/><circle cx="128.77" cy="74.66" r="0.5" fill="#000"/><circle cx="130.18" cy="96.01" r="0.5" fill="#000"/><circle cx="128.81" cy="67.88" r="0.5" fill="#000"/><circle cx="129.79" cy="62.79" r="0.5" fill="#000"/><circle cx="128.70" cy="93.71" r="0.5" fill="#000"/><circle cx="128.97" cy="56.95" r="0.5" fill="#000"/><circle cx="128.86" cy="91.58" r="0.5" fill="#000"/><circle cx="130.42" cy="77.97" r="0.5" fill="#000"/><circle cx="128.77" cy="105.16" r="0.5" fill="#000"/><circle cx="129.18" cy="90.59" r="0.5" fill="#000"/><circle cx="129.65" cy="93.43" r="0.5" fill="#000"/><circle cx="128.85" cy="91.32" r="0.5" fill="#000"/><circle cx="130.74" cy="95.21" r="0.5" fill="#000"/><circle cx="130.71" cy="83.95" r="0.5" fill="#000"/><circle cx="128.64" cy="78.47" r="0.5" fill="#000"/><circle cx="130.31" cy="55.24" r="0.5" fill="#000"/><circle cx="130.16" cy="111.11" r="0.5" fill="#000"/><circle cx="129.93" cy="76.44" r="0.5" fill="#000"/><circle cx="128.66" cy="88.42" r="0.5" fill="#000"/><circle cx="128.48" cy="88.49" r="0.5" fill="#000"/><circle cx="129.36" cy="97.95" r="0.5" fill="#000"/><circle cx="129.60" cy="90.20" r="0.5" fill="#000"/><circle cx="129.92" cy="64.31" r="0.5" fill="#000"/><circle cx="129.85" cy="77.38" r="0.5" fill="#000"/><circle cx="129.37" cy="86.54" r="0.5" fill="#000"/><circle cx="129.43" cy="83.09" r="0.5" fill="#000"/><circle cx="129.78" cy="54.75" r="0.5" fill="#000"/><circle cx="128.95" cy="84.72" r="0.5" fill="#000"/><circle cx="130.13" cy="70.39" r="0.5" fill="#000"/><circle cx="130.08" cy="102.13" r="0.5" fill="#000"/><circle cx="130.45" cy="68.54" r="0.5" fill="#000"/><circle cx="129.49" cy="76.35" r="0.5" fill="#000"/><circle cx="129.15" cy="66.96" r="0.5" fill="#000"/><circle cx="129.41" cy="80.47" r="0.5" fill="#000"/><circle cx="130.28" cy="80.29" r="0.5" fill="#000"/><circle cx="129.00" cy="80.34" r="0.5" fill="#000"/><circle cx="129.42" cy="65.90" r="0.5" fill="#000"/><circle cx="129.38" cy="66.35" r="0.5" fill="#000"/><circle cx="130.02" cy="90.14" r="0.5" fill="#000"/><circle cx="129.97" cy="92.73" r="0.5" fill="#000"/><circle cx="130.27" cy="81.08" r="0.5" fill="#000"/><circle cx="130.74" cy="72.57" r="0.5" fill="#000"/><circle cx="128.49" cy="95.09" r="0.5" fill="#000"/><circle cx="130.28" cy="76.94" r="0.5" fill="#000"/><circle cx="130.66" cy="82.60" r="0.5" fill="#000"/><circle cx="129.78" cy="78.49" r="0.5" fill="#000"/><circle cx="129.70" cy="84.03" r="0.5" fill="#000"/><circle cx="129.93" cy="81.43" r="0.5" fill="#000"/><circle cx="130.39" cy="68.64" r="0.5" fill="#000"/><circle cx="130.68" cy="70.77" r="0.5" fill="#000"/><circle cx="128.90" cy="82.88" r="0.5" fill="#000"/><circle cx="130.23" cy="79.29" r="0.5" fill="#000"/><circle cx="128.69" cy="72.20" r="0.5" fill="#000"/><circle cx="128.54" cy="97.65" r="0.5" fill="#000"/><circle cx="129.06" cy="83.54" r="0.5" fill="#000"/><circle cx="129.40" cy="82.98" r="0.5" fill="#000"/><circle cx="129.41" cy="86.13" r="0.5" fill="#000"/><circle cx="129.04" cy="80.70" r="0.5" fill="#000"/><circle cx="128.94" cy="72.64" r="0.5" fill="#000"/><circle cx="129.66" cy="83.05" r="0.5" fill="#000"/><circle cx="128.93" cy="52.17" r="0.5" fill="#000"/><circle cx="128.91" cy="89.17" r="0.5" fill="#000"/><circle cx="128.71" cy="71.77" r="0.5" fill="#000"/><circle cx="129.92" cy="88.98" r="0.5" fill="#000"/><circle cx="129.53" cy="60.06" r="0.5" fill="#000"/><circle cx="130.71" cy="75.68" r="0.5" fill="#000"/><circle cx="129.25" cy="81.05" r="0.5" fill="#000"/><circle cx="130.36" cy="68.42" r="0.5" fill="#000"/><circle cx="129.52" cy="65.30" r="0.5" fill="#000"/><circle cx="128.70" cy="80.02" r="0.5" fill="#000"/><circle cx="130.40" cy="101.50" r="0.5" fill="#000"/><circle cx="129.04" cy="68.37" r="0.5" fill="#000"/><circle cx="129.30" cy="106.06" r="0.5" fill="#000"/><circle cx="128.85" cy="84.48" r="0.5" fill="#000"/><circle cx="128.41" cy="99.32" r="0.5" fill="#000"/><circle cx="128.99" cy="82.83" r="0.5" fill="#000"/><circle cx="129.12" cy="73.78" r="0.5" fill="#000"/><circle cx="129.93" cy="70.35" r="0.5" fill="#000"/><circle cx="129.98" cy="86.67" r="0.5" fill="#000"/><circle cx="130.45" cy="64.24" r="0.5" fill="#000"/><circle cx="128.54" cy="108.89" r="0.5" fill="#000"/><circle cx="130.28" cy="98.88" r="0.5" fill="#000"/><circle cx="128.74" cy="58.37" r="0.5" fill="#000"/><circle cx="128.44" cy="94.34" r="0.5" fill="#000"/><circle cx="128.43" cy="67.78" r="0.5" fill="#000"/><circle cx="129.00" cy="104.01" r="0.5" fill="#000"/><circle cx="128.64" cy="78.79" r="0.5" fill="#000"/><circle cx="130.26" cy="91.07" r="0.5" fill="#000"/><circle cx="129.23" cy="92.65" r="0.5" fill="#000"/><circle cx="130.30" cy="101.93" r="0.5" fill="#000"/><circle cx="128.80" cy="109.23" r="0.5" fill="#000"/><circle cx="130.28" cy="99.42" r="0.5" fill="#000"/><circle cx="130.00" cy="72.88" r="0.5" fill="#000"/><circle cx="130.41" cy="103.88" r="0.5" fill="#000"/><circle cx="128.87" cy="69.79" r="0.5" fill="#000"/><circle cx="130.18" cy="78.84" r="0.5" fill="#000"/><circle cx="129.45" cy="68.93" r="0.5" fill="#000"/><circle cx="129.03" cy="97.78" r="0.5" fill="#000"/><circle cx="128.96" cy="73.01" r="0.5" fill="#000"/><circle cx="128.54" cy="95.09" r="0.5" fill="#000"/><circle cx="129.52" cy="97.13" r="0.5" fill="#000"/><circle cx="129.60" cy="94.67" r="0.5" fill="#000"/><circle cx="129.69" cy="97.42" r="0.5" fill="#000"/><circle cx="130.42" cy="85.83" r="0.5" fill="#000"/><circle cx="129.52" cy="83.60" r="0.5" fill="#000"/><circle cx="130.42" cy="65.97" r="0.5" fill="#000"/><circle cx="129.30" cy="76.99" r="0.5" fill="#000"/><circle cx="128.58" cy="54.22" r="0.5" fill="#000"/><circle cx="129.93" cy="101.91" r="0.5" fill="#000"/><circle cx="129.86" cy="82.63" r="0.5" fill="#000"/><circle cx="130.04" cy="82.30" r="0.5" fill="#000"/><circle cx="130.76" cy="96.02" r="0.5" fill="#000"/><circle cx="129.63" cy="79.65" r="0.5" fill="#000"/><circle cx="128.48" cy="55.52" r="0.5" fill="#000"/><circle cx="130.12" cy="87.63" r="0.5" fill="#000"/><circle cx="130.47" cy="75.96" r="0.5" fill="#000"/><circle cx="129.28" cy="75.93" r="0.5" fill="#000"/><circle cx="130.25" cy="68.19" r="0.5" fill="#000"/><circle cx="128.91" cy="87.48" r="0.5" fill="#000"/><circle cx="129.73" cy="71.55" r="0.5" fill="#000"/><circle cx="130.38" cy="90.52" r="0.5" fill="#000"/><circle cx="129.37" cy="77.92" r="0.5" fill="#000"/><circle cx="129.61" cy="109.71" r="0.5" fill="#000"/><circle cx="130.74" cy="82.57" r="0.5" fill="#000"/><circle cx="129.97" cy="101.02" r="0.5" fill="#000"/><circle cx="129.16" cy="88.02" r="0.5" fill="#000"/><circle cx="129.12" cy="72.88" r="0.5" fill="#000"/><circle cx="130.28" cy="68.06" r="0.5" fill="#000"/><circle cx="128.50" cy="74.69" r="0.5" fill="#000"/><circle cx="129.71" cy="79.90" r="0.5" fill="#000"/><circle cx="128.52" cy="56.53" r="0.5" fill="#000"/><circle cx="128.86" cy="84.32" r="0.5" fill="#000"/><circle cx="130.61" cy="86.26" r="0.5" fill="#000"/><circle cx="130.29" cy="69.14" r="0.5" fill="#000"/><circle cx="130.58" cy="72.06" r="0.5" fill="#000"/><circle cx="129.90" cy="70.23" r="0.5" fill="#000"/><circle cx="130.07" cy="72.48" r="0.5" fill="#000"/><circle cx="128.91" cy="67.67" r="0.5" fill="#000"/><circle cx="130.00" cy="72.95" r="0.5" fill="#000"/><circle cx="128.64" cy="62.25" r="0.5" fill="#000"/><circle cx="128.84" cy="90.91" r="0.5" fill="#000"/><circle cx="130.59" cy="107.94" r="0.5" fill="#000"/><circle cx="129.97" cy="90.28" r="0.5" fill="#000"/><circle cx="130.29" cy="67.39" r="0.5" fill="#000"/><circle cx="129.75" cy="103.60" r="0.5" fill="#000"/><circle cx="129.41" cy="84.21" r="0.5" fill="#000"/><circle cx="129.16" cy="96.47" r="0.5" fill="#000"/><circle cx="130.64" cy="66.90" r="0.5" fill="#000"/><circle cx="128.53" cy="93.13" r="0.5" fill="#000"/><circle cx="128.69" cy="81.24" r="0.5" fill="#000"/><circle cx="130.34" cy="83.19" r="0.5" fill="#000"/><circle cx="129.47" cy="57.33" r="0.5" fill="#000"/><circle cx="128.43" cy="70.73" r="0.5" fill="#000"/><circle cx="130.65" cy="70.80" r="0.5" fill="#000"/><circle cx="130.75" cy="96.81" r="0.5" fill="#000"/><circle cx="128.64" cy="70.76" r="0.5" fill="#000"/><circle cx="129.95" cy="86.98" r="0.5" fill="#000"/><circle cx="128.44" cy="86.66" r="0.5" fill="#000"/><circle cx="128.41" cy="92.48" r="0.5" fill="#000"/><circle cx="130.72" cy="81.96" r="0.5" fill="#000"/><circle cx="128.61" cy="78.38" r="0.5" fill="#000"/><circle cx="128.44" cy="89.74" r="0.5" fill="#000"/><circle cx="130.13" cy="79.51" r="0.5" fill="#000"/><circle cx="128.85" cy="85.89" r="0.5" fill="#000"/><circle cx="128.52" cy="107.18" r="0.5" fill="#000"/><circle cx="130.45" cy="88.08" r="0.5" fill="#000"/><circle cx="130.15" cy="63.26" r="0.5" fill="#000"/><circle cx="130.10" cy="101.54" r="0.5" fill="#000"/><circle cx="129.51" cy="94.60" r="0.5" fill="#000"/><circle cx="130.71" cy="94.41" r="0.5" fill="#000"/><circle cx="130.12" cy="80.45" r="0.5" fill="#000"/><circle cx="129.96" cy="87.17" r="0.5" fill="#000"/><circle cx="130.36" cy="84.97" r="0.5" fill="#000"/><circle cx="130.15" cy="95.23" r="0.5" fill="#000"/><circle cx="128.80" cy="90.51" r="0.5" fill="#000"/><circle cx="128.54" cy="95.01" r="0.5" fill="#000"/><circle cx="129.28" cy="72.61" r="0.5" fill="#000"/><circle cx="130.02" cy="71.60" r="0.5" fill="#000"/><circle cx="128.75" cy="78.08" r="0.5" fill="#000"/><circle cx="129.95" cy="88.64" r="0.5" fill="#000"/><circle cx="129.91" cy="72.28" r="0.5" fill="#000"/><circle cx="130.29" cy="72.97" r="0.5" fill="#000"/><circle cx="130.67" cy="91.50" r="0.5" fill="#000"/><circle cx="129.10" cy="88.65" r="0.5" fill="#000"/><circle cx="128.55" cy="67.40" r="0.5" fill="#000"/><circle cx="130.39" cy="105.99" r="0.5" fill="#000"/><circle cx="129.20" cy="81.30" r="0.5" fill="#000"/><circle cx="130.40" cy="54.94" r="0.5" fill="#000"/><circle cx="129.84" cy="61.39" r="0.5" fill="#000"/><circle cx="130.53" cy="79.55" r="0.5" fill="#000"/><circle cx="129.30" cy="98.40" r="0.5" fill="#000"/><circle cx="130.55" cy="77.36" r="0.5" fill="#000"/><circle cx="130.34" cy="67.65" r="0.5" fill="#000"/><circle cx="129.03" cy="84.63" r="0.5" fill="#000"/><circle cx="129.41" cy="85.58" r="0.5" fill="#000"/><circle cx="130.53" cy="63.11" r="0.5" fill="#000"/><circle cx="128.50" cy="71.67" r="0.5" fill="#000"/><circle cx="130.48" cy="97.38" r="0.5" fill="#000"/><circle cx="129.77" cy="62.99" r="0.5" fill="#000"/><circle cx="130.34" cy="80.79" r="0.5" fill="#000"/><circle cx="130.04" cy="111.39" r="0.5" fill="#000"/><circle cx="128.60" cy="95.69" r="0.5" fill="#000"/><circle cx="129.73" cy="78.24" r="0.5" fill="#000"/><circle cx="130.20" cy="87.50" r="0.5" fill="#000"/><circle cx="130.64" cy="75.99" r="0.5" fill="#000"/><circle cx="130.03" cy="86.69" r="0.5" fill="#000"/><circle cx="129.52" cy="103.53" r="0.5" fill="#000"/><circle cx="130.20" cy="87.65" r="0.5" fill="#000"/><circle cx="130.30" cy="94.97" r="0.5" fill="#000"/><circle cx="130.34" cy="79.08" r="0.5" fill="#000"/><circle cx="130.25" cy="86.28" r="0.5" fill="#000"/><circle cx="130.55" cy="86.75" r="0.5" fill="#000"/><circle cx="130.52" cy="102.83" r="0.5" fill="#000"/><circle cx="129.81" cy="69.27" r="0.5" fill="#000"/><circle cx="128.85" cy="82.65" r="0.5" fill="#000"/><circle cx="130.08" cy="87.88" r="0.5" fill="#000"/><circle cx="129.27" cy="92.93" r="0.5" fill="#000"/><circle cx="129.64" cy="71.95" r="0.5" fill="#000"/><circle cx="128.76" cy="79.29" r="0.5" fill="#000"/><circle cx="129.30" cy="97.84" r="0.5" fill="#000"/><circle cx="130.29" cy="100.12" r="0.5" fill="#000"/><circle cx="128.77" cy="96.86" r="0.5" fill="#000"/><circle cx="129.65" cy="74.42" r="0.5" fill="#000"/><circle cx="128.45" cy="77.53" r="0.5" fill="#000"/><circle cx="130.48" cy="93.60" r="0.5" fill="#000"/><circle cx="129.03" cy="67.04" r="0.5" fill="#000"/><circle cx="130.27" cy="86.33" r="0.5" fill="#000"/><circle cx="130.24" cy="55.00" r="0.5" fill="#000"/><circle cx="130.37" cy="99.76" r="0.5" fill="#000"/><circle cx="128.49" cy="95.07" r="0.5" fill="#000"/><circle cx="128.88" cy="82.40" r="0.5" fill="#000"/><circle cx="128.52" cy="87.23" r="0.5" fill="#000"/><circle cx="129.74" cy="90.02" r="0.5" fill="#000"/><circle cx="130.67" cy="95.29" r="0.5" fill="#000"/><circle cx="130.58" cy="73.72" r="0.5" fill="#000"/><circle cx="129.35" cy="101.91" r="0.5" fill="#000"/><circle cx="128.69" cy="92.10" r="0.5" fill="#000"/><circle cx="129.75" cy="95.08" r="0.5" fill="#000"/><circle cx="129.94" cy="82.11" r="0.5" fill="#000"/><circle cx="129.34" cy="104.54" r="0.5" fill="#000"/><circle cx="129.48" cy="79.25" r="0.5" fill="#000"/><circle cx="130.78" cy="104.03" r="0.5" fill="#000"/><circle cx="128.93" cy="114.99" r="0.5" fill="#000"/><circle cx="129.24" cy="95.08" r="0.5" fill="#000"/><circle cx="130.57" cy="87.35" r="0.5" fill="#000"/><circle cx="130.41" cy="47.85" r="0.4" fill="#555"/><circle cx="130.29" cy="37.56" r="0.4" fill="#555"/><circle cx="129.95" cy="45.52" r="0.4" fill="#555"/><circle cx="128.53" cy="48.83" r="0.4" fill="#555"/><circle cx="130.21" cy="38.74" r="0.4" fill="#555"/><circle cx="130.02" cy="48.27" r="0.4" fill="#555"/>
<circle cx="131.04" cy="79.24" r="0.42" fill="#333"/><circle cx="127.39" cy="102.38" r="0.42" fill="#333"/><circle cx="127.50" cy="80.04" r="0.42" fill="#333"/><circle cx="129.50" cy="94.30" r="0.42" fill="#333"/><circle cx="127.60" cy="89.78" r="0.42" fill="#333"/><circle cx="130.59" cy="93.67" r="0.42" fill="#333"/><circle cx="127.89" cy="106.63" r="0.42" fill="#333"/><circle cx="127.00" cy="86.53" r="0.42" fill="#333"/><circle cx="132.03" cy="93.54" r="0.42" fill="#333"/><circle cx="131.65" cy="80.53" r="0.42" fill="#333"/><circle cx="129.30" cy="90.59" r="0.42" fill="#333"/><circle cx="127.34" cy="79.93" r="0.42" fill="#333"/><circle cx="130.32" cy="108.67" r="0.42" fill="#333"/><circle cx="129.33" cy="73.34" r="0.42" fill="#333"/><circle cx="129.47" cy="71.09" r="0.42" fill="#333"/><circle cx="130.32" cy="106.47" r="0.42" fill="#333"/><circle cx="127.12" cy="90.89" r="0.42" fill="#333"/><circle cx="130.80" cy="92.42" r="0.42" fill="#333"/><circle cx="131.68" cy="77.53" r="0.42" fill="#333"/><circle cx="128.29" cy="82.26" r="0.42" fill="#333"/><circle cx="128.32" cy="77.98" r="0.42" fill="#333"/><circle cx="131.50" cy="89.02" r="0.42" fill="#333"/><circle cx="129.55" cy="80.57" r="0.42" fill="#333"/><circle cx="128.58" cy="92.00" r="0.42" fill="#333"/><circle cx="132.28" cy="90.37" r="0.42" fill="#333"/><circle cx="127.12" cy="80.92" r="0.42" fill="#333"/><circle cx="127.98" cy="100.98" r="0.42" fill="#333"/><circle cx="129.47" cy="72.26" r="0.42" fill="#333"/><circle cx="127.93" cy="82.40" r="0.42" fill="#333"/><circle cx="128.84" cy="95.16" r="0.42" fill="#333"/><circle cx="131.98" cy="82.05" r="0.42" fill="#333"/><circle cx="131.82" cy="94.12" r="0.42" fill="#333"/><circle cx="127.12" cy="91.35" r="0.42" fill="#333"/><circle cx="132.28" cy="83.11" r="0.42" fill="#333"/><circle cx="126.89" cy="73.44" r="0.42" fill="#333"/><circle cx="127.58" cy="89.21" r="0.42" fill="#333"/><circle cx="126.81" cy="73.02" r="0.42" fill="#333"/><circle cx="127.84" cy="93.12" r="0.42" fill="#333"/><circle cx="129.24" cy="70.15" r="0.42" fill="#333"/><circle cx="130.00" cy="93.03" r="0.42" fill="#333"/><circle cx="127.57" cy="79.72" r="0.42" fill="#333"/><circle cx="130.79" cy="94.85" r="0.42" fill="#333"/><circle cx="127.90" cy="106.20" r="0.42" fill="#333"/><circle cx="130.21" cy="89.98" r="0.42" fill="#333"/><circle cx="129.57" cy="87.62" r="0.42" fill="#333"/><circle cx="130.23" cy="83.40" r="0.42" fill="#333"/><circle cx="130.76" cy="94.05" r="0.42" fill="#333"/><circle cx="127.93" cy="91.68" r="0.42" fill="#333"/><circle cx="127.17" cy="67.93" r="0.42" fill="#333"/><circle cx="130.84" cy="83.27" r="0.42" fill="#333"/><circle cx="127.11" cy="70.77" r="0.42" fill="#333"/><circle cx="131.51" cy="89.43" r="0.42" fill="#333"/><circle cx="131.64" cy="73.24" r="0.42" fill="#333"/><circle cx="131.90" cy="82.37" r="0.42" fill="#333"/><circle cx="129.47" cy="84.91" r="0.42" fill="#333"/><circle cx="127.84" cy="92.32" r="0.42" fill="#333"/><circle cx="131.46" cy="76.99" r="0.42" fill="#333"/><circle cx="128.88" cy="79.27" r="0.42" fill="#333"/><circle cx="130.13" cy="90.90" r="0.42" fill="#333"/><circle cx="129.30" cy="101.48" r="0.42" fill="#333"/><circle cx="129.69" cy="85.29" r="0.42" fill="#333"/><circle cx="131.37" cy="100.63" r="0.42" fill="#333"/><circle cx="131.65" cy="99.81" r="0.42" fill="#333"/><circle cx="128.94" cy="75.43" r="0.42" fill="#333"/><circle cx="131.01" cy="104.39" r="0.42" fill="#333"/><circle cx="132.14" cy="110.74" r="0.42" fill="#333"/><circle cx="129.57" cy="95.30" r="0.42" fill="#333"/><circle cx="129.81" cy="67.92" r="0.42" fill="#333"/><circle cx="126.92" cy="83.38" r="0.42" fill="#333"/><circle cx="127.82" cy="94.40" r="0.42" fill="#333"/><circle cx="127.37" cy="82.81" r="0.42" fill="#333"/><circle cx="126.97" cy="84.73" r="0.42" fill="#333"/><circle cx="127.34" cy="110.20" r="0.42" fill="#333"/><circle cx="126.90" cy="81.94" r="0.42" fill="#333"/><circle cx="130.16" cy="76.19" r="0.42" fill="#333"/><circle cx="130.73" cy="69.94" r="0.42" fill="#333"/><circle cx="127.38" cy="77.05" r="0.42" fill="#333"/><circle cx="127.05" cy="99.74" r="0.42" fill="#333"/><circle cx="127.49" cy="68.79" r="0.42" fill="#333"/><circle cx="128.37" cy="68.57" r="0.42" fill="#333"/><circle cx="127.48" cy="85.45" r="0.42" fill="#333"/><circle cx="130.11" cy="78.60" r="0.42" fill="#333"/><circle cx="131.62" cy="88.98" r="0.42" fill="#333"/><circle cx="130.98" cy="95.61" r="0.42" fill="#333"/><circle cx="127.72" cy="99.15" r="0.42" fill="#333"/><circle cx="128.98" cy="99.72" r="0.42" fill="#333"/><circle cx="129.15" cy="55.98" r="0.42" fill="#333"/><circle cx="129.02" cy="93.79" r="0.42" fill="#333"/><circle cx="132.07" cy="70.58" r="0.42" fill="#333"/><circle cx="128.15" cy="86.91" r="0.42" fill="#333"/><circle cx="128.68" cy="72.45" r="0.42" fill="#333"/><circle cx="131.30" cy="49.09" r="0.42" fill="#333"/><circle cx="131.91" cy="100.10" r="0.42" fill="#333"/><circle cx="127.10" cy="95.42" r="0.42" fill="#333"/><circle cx="129.70" cy="60.27" r="0.42" fill="#333"/><circle cx="128.20" cy="115.83" r="0.42" fill="#333"/><circle cx="129.16" cy="76.39" r="0.42" fill="#333"/><circle cx="129.77" cy="75.98" r="0.42" fill="#333"/><circle cx="127.19" cy="75.09" r="0.42" fill="#333"/><circle cx="126.92" cy="69.89" r="0.42" fill="#333"/><circle cx="127.58" cy="91.47" r="0.42" fill="#333"/><circle cx="132.05" cy="108.22" r="0.42" fill="#333"/><circle cx="130.35" cy="80.29" r="0.42" fill="#333"/><circle cx="131.75" cy="95.21" r="0.42" fill="#333"/><circle cx="126.99" cy="58.14" r="0.42" fill="#333"/><circle cx="130.60" cy="77.98" r="0.42" fill="#333"/><circle cx="128.33" cy="76.39" r="0.42" fill="#333"/><circle cx="130.28" cy="54.59" r="0.42" fill="#333"/><circle cx="128.20" cy="76.58" r="0.42" fill="#333"/><circle cx="132.12" cy="70.23" r="0.42" fill="#333"/><circle cx="128.41" cy="82.93" r="0.42" fill="#333"/><circle cx="127.47" cy="78.01" r="0.42" fill="#333"/><circle cx="130.13" cy="103.50" r="0.42" fill="#333"/><circle cx="128.30" cy="100.72" r="0.42" fill="#333"/><circle cx="129.41" cy="80.29" r="0.42" fill="#333"/><circle cx="127.49" cy="77.17" r="0.42" fill="#333"/><circle cx="127.54" cy="83.15" r="0.42" fill="#333"/><circle cx="128.41" cy="80.99" r="0.42" fill="#333"/><circle cx="128.16" cy="98.35" r="0.42" fill="#333"/><circle cx="131.50" cy="99.55" r="0.42" fill="#333"/><circle cx="130.22" cy="93.88" r="0.42" fill="#333"/><circle cx="127.93" cy="66.74" r="0.42" fill="#333"/><circle cx="130.78" cy="76.28" r="0.42" fill="#333"/><circle cx="130.23" cy="67.96" r="0.42" fill="#333"/><circle cx="129.43" cy="89.02" r="0.42" fill="#333"/><circle cx="128.04" cy="80.99" r="0.42" fill="#333"/><circle cx="129.67" cy="94.33" r="0.42" fill="#333"/><circle cx="126.87" cy="71.22" r="0.42" fill="#333"/><circle cx="128.77" cy="97.05" r="0.42" fill="#333"/><circle cx="129.92" cy="91.38" r="0.42" fill="#333"/><circle cx="129.55" cy="77.04" r="0.42" fill="#333"/><circle cx="128.45" cy="75.95" r="0.42" fill="#333"/><circle cx="127.17" cy="85.92" r="0.42" fill="#333"/><circle cx="131.68" cy="76.78" r="0.42" fill="#333"/><circle cx="128.97" cy="80.22" r="0.42" fill="#333"/><circle cx="129.26" cy="86.62" r="0.42" fill="#333"/><circle cx="128.06" cy="84.19" r="0.42" fill="#333"/><circle cx="132.17" cy="78.20" r="0.42" fill="#333"/><circle cx="128.69" cy="84.23" r="0.42" fill="#333"/><circle cx="128.77" cy="76.84" r="0.42" fill="#333"/><circle cx="131.56" cy="76.18" r="0.42" fill="#333"/><circle cx="131.40" cy="67.79" r="0.42" fill="#333"/><circle cx="130.96" cy="62.37" r="0.42" fill="#333"/><circle cx="131.05" cy="82.28" r="0.42" fill="#333"/><circle cx="130.77" cy="60.94" r="0.42" fill="#333"/><circle cx="131.92" cy="88.54" r="0.42" fill="#333"/><circle cx="126.82" cy="104.23" r="0.42" fill="#333"/><circle cx="131.09" cy="104.79" r="0.42" fill="#333"/><circle cx="132.19" cy="70.92" r="0.42" fill="#333"/><circle cx="130.00" cy="76.49" r="0.42" fill="#333"/><circle cx="131.69" cy="63.83" r="0.42" fill="#333"/><circle cx="130.20" cy="96.69" r="0.42" fill="#333"/><circle cx="129.36" cy="73.81" r="0.42" fill="#333"/><circle cx="130.85" cy="95.18" r="0.42" fill="#333"/><circle cx="129.91" cy="81.15" r="0.42" fill="#333"/><circle cx="128.95" cy="98.02" r="0.42" fill="#333"/><circle cx="131.56" cy="74.21" r="0.42" fill="#333"/><circle cx="129.60" cy="106.60" r="0.42" fill="#333"/><circle cx="128.50" cy="76.55" r="0.42" fill="#333"/><circle cx="127.61" cy="87.83" r="0.42" fill="#333"/>
<circle cx="148.90" cy="118.07" r="0.45" fill="#111"/><circle cx="152.73" cy="121.54" r="0.45" fill="#111"/><circle cx="152.36" cy="119.96" r="0.45" fill="#111"/><circle cx="152.91" cy="135.66" r="0.45" fill="#111"/><circle cx="152.69" cy="127.01" r="0.45" fill="#111"/><circle cx="148.55" cy="131.34" r="0.45" fill="#111"/><circle cx="150.79" cy="132.69" r="0.45" fill="#111"/><circle cx="152.73" cy="127.50" r="0.45" fill="#111"/><circle cx="153.09" cy="126.31" r="0.45" fill="#111"/><circle cx="150.88" cy="117.73" r="0.45" fill="#111"/><circle cx="150.29" cy="116.02" r="0.45" fill="#111"/><circle cx="150.15" cy="124.20" r="0.45" fill="#111"/><circle cx="152.86" cy="120.52" r="0.45" fill="#111"/><circle cx="151.61" cy="122.03" r="0.45" fill="#111"/><circle cx="150.22" cy="122.46" r="0.45" fill="#111"/><circle cx="150.34" cy="124.76" r="0.45" fill="#111"/><circle cx="152.55" cy="117.85" r="0.45" fill="#111"/><circle cx="152.94" cy="122.22" r="0.45" fill="#111"/><circle cx="151.37" cy="118.68" r="0.45" fill="#111"/><circle cx="153.08" cy="125.75" r="0.45" fill="#111"/><circle cx="152.25" cy="121.07" r="0.45" fill="#111"/><circle cx="149.29" cy="131.42" r="0.45" fill="#111"/><circle cx="152.30" cy="118.22" r="0.45" fill="#111"/><circle cx="152.61" cy="122.27" r="0.45" fill="#111"/><circle cx="151.67" cy="124.97" r="0.45" fill="#111"/><circle cx="152.59" cy="133.13" r="0.45" fill="#111"/><circle cx="149.83" cy="122.09" r="0.45" fill="#111"/><circle cx="150.85" cy="126.89" r="0.45" fill="#111"/><circle cx="149.34" cy="121.28" r="0.45" fill="#111"/><circle cx="151.40" cy="125.08" r="0.45" fill="#111"/><circle cx="153.07" cy="120.68" r="0.45" fill="#111"/><circle cx="151.43" cy="121.78" r="0.45" fill="#111"/><circle cx="152.12" cy="131.23" r="0.45" fill="#111"/><circle cx="149.91" cy="126.84" r="0.45" fill="#111"/><circle cx="149.90" cy="125.00" r="0.45" fill="#111"/><circle cx="152.37" cy="124.70" r="0.45" fill="#111"/><circle cx="149.40" cy="117.47" r="0.45" fill="#111"/><circle cx="150.79" cy="120.55" r="0.45" fill="#111"/><circle cx="151.48" cy="120.69" r="0.45" fill="#111"/><circle cx="150.94" cy="123.63" r="0.45" fill="#111"/><circle cx="150.39" cy="133.14" r="0.45" fill="#111"/><circle cx="149.06" cy="125.06" r="0.45" fill="#111"/><circle cx="148.99" cy="130.87" r="0.45" fill="#111"/><circle cx="148.96" cy="133.74" r="0.45" fill="#111"/><circle cx="152.29" cy="128.74" r="0.45" fill="#111"/><circle cx="151.32" cy="131.68" r="0.45" fill="#111"/><circle cx="148.56" cy="125.96" r="0.45" fill="#111"/><circle cx="152.04" cy="123.16" r="0.45" fill="#111"/><circle cx="150.13" cy="120.95" r="0.45" fill="#111"/><circle cx="149.28" cy="133.84" r="0.45" fill="#111"/><circle cx="148.96" cy="101.20" r="0.4" fill="#555"/><circle cx="151.18" cy="108.85" r="0.4" fill="#555"/>
<text transform="translate(210.1 14.6) scale(0.93 1)" font-size="12.5" fill="#111" stroke="#111" stroke-width="0.28">B</text>
<text x="296.3" y="20.7" font-size="6.7" text-anchor="middle" font-weight="bold" fill="#000" textLength="56.5" lengthAdjust="spacingAndGlyphs" stroke="#000" stroke-width="0.08">EZH2 (203358_s_at)</text>
<rect x="228.5" y="27.8" width="135.7" height="113.7" fill="none" stroke="#a0a0a0" stroke-width="0.8"/>
<text x="361.3" y="36.6" font-size="6.5" text-anchor="end" fill="#000" textLength="63.6" lengthAdjust="spacingAndGlyphs" stroke="#000" stroke-width="0.08">HR = 1.21 (1.02 – 1.44)</text>
<text x="361.3" y="43.2" font-size="6.5" text-anchor="end" fill="#000" textLength="48.1" lengthAdjust="spacingAndGlyphs" stroke="#000" stroke-width="0.08">logrank P = 0.029</text>
<line x1="226.3" y1="137.4" x2="228.5" y2="137.4" stroke="#555" stroke-width="0.6"/>
<text x="223.0" y="137.4" font-size="6.3" text-anchor="middle" fill="#111" transform="rotate(-90 223.0 137.4)" stroke="#111" stroke-width="0.08">0.0</text>
<line x1="226.3" y1="116.2" x2="228.5" y2="116.2" stroke="#555" stroke-width="0.6"/>
<text x="223.0" y="116.2" font-size="6.3" text-anchor="middle" fill="#111" transform="rotate(-90 223.0 116.2)" stroke="#111" stroke-width="0.08">0.2</text>
<line x1="226.3" y1="95.0" x2="228.5" y2="95.0" stroke="#555" stroke-width="0.6"/>
<text x="223.0" y="95.0" font-size="6.3" text-anchor="middle" fill="#111" transform="rotate(-90 223.0 95.0)" stroke="#111" stroke-width="0.08">0.4</text>
<line x1="226.3" y1="73.80000000000001" x2="228.5" y2="73.80000000000001" stroke="#555" stroke-width="0.6"/>
<text x="223.0" y="73.80000000000001" font-size="6.3" text-anchor="middle" fill="#111" transform="rotate(-90 223.0 73.80000000000001)" stroke="#111" stroke-width="0.08">0.6</text>
<line x1="226.3" y1="52.60000000000001" x2="228.5" y2="52.60000000000001" stroke="#555" stroke-width="0.6"/>
<text x="223.0" y="52.60000000000001" font-size="6.3" text-anchor="middle" fill="#111" transform="rotate(-90 223.0 52.60000000000001)" stroke="#111" stroke-width="0.08">0.8</text>
<line x1="226.3" y1="31.400000000000006" x2="228.5" y2="31.400000000000006" stroke="#555" stroke-width="0.6"/>
<text x="223.0" y="31.400000000000006" font-size="6.3" text-anchor="middle" fill="#111" transform="rotate(-90 223.0 31.400000000000006)" stroke="#111" stroke-width="0.08">1.0</text>
<text x="211.2" y="88.7" font-size="7.0" text-anchor="middle" fill="#111" transform="rotate(-90 211.2 88.7)" stroke="#111" stroke-width="0.08">Percent survival</text>
<line x1="233.3" y1="141.5" x2="233.3" y2="143.6" stroke="#555" stroke-width="0.6"/>
<text x="233.3" y="151.2" font-size="6.2" text-anchor="middle" fill="#111" stroke="#111" stroke-width="0.08">0</text>
<line x1="261.7" y1="141.5" x2="261.7" y2="143.6" stroke="#555" stroke-width="0.6"/>
<text x="261.7" y="151.2" font-size="6.2" text-anchor="middle" fill="#111" stroke="#111" stroke-width="0.08">50</text>
<line x1="290.1" y1="141.5" x2="290.1" y2="143.6" stroke="#555" stroke-width="0.6"/>
<text x="290.1" y="151.2" font-size="6.2" text-anchor="middle" fill="#111" stroke="#111" stroke-width="0.08">100</text>
<line x1="318.5" y1="141.5" x2="318.5" y2="143.6" stroke="#555" stroke-width="0.6"/>
<text x="318.5" y="151.2" font-size="6.2" text-anchor="middle" fill="#111" stroke="#111" stroke-width="0.08">150</text>
<line x1="346.9" y1="141.5" x2="346.9" y2="143.6" stroke="#555" stroke-width="0.6"/>
<text x="346.9" y="151.2" font-size="6.2" text-anchor="middle" fill="#111" stroke="#111" stroke-width="0.08">200</text>
<text x="296.6" y="160.4" font-size="6.15" text-anchor="middle" fill="#111" stroke="#111" stroke-width="0.08">Time (months)</text>
<text x="231.6" y="122.2" font-size="6.3" text-anchor="start" fill="#111" stroke="#111" stroke-width="0.08">Expression</text>
<line x1="233.6" y1="128.7" x2="245.3" y2="128.7" stroke="#444" stroke-width="0.6"/>
<line x1="233.6" y1="135.3" x2="245.3" y2="135.3" stroke="#e8809a" stroke-width="0.6"/>
<text x="250.3" y="130.4" font-size="6.2" text-anchor="start" fill="#111" stroke="#111" stroke-width="0.08">low</text>
<text x="250.3" y="136.8" font-size="6.2" text-anchor="start" fill="#111" stroke="#111" stroke-width="0.08">high</text>
<text x="263.1" y="130.4" font-size="5.0" text-anchor="start" fill="#111" stroke="#111" stroke-width="0.08">(n=580)</text>
<text x="263.1" y="136.8" font-size="5.0" text-anchor="start" fill="#e02020" stroke="#e02020" stroke-width="0.08">(n=581)</text>
<polyline points="312.0,102.2 324.6,102.2 324.6,104.1 332.6,104.1 332.6,110.1 344.2,110.1 344.2,118.3 349.6,118.3 349.6,127.6" fill="none" stroke="#e37d98" stroke-width="0.75" stroke-linejoin="round"/>
<polyline points="308.8,106.0 317.0,106.0 317.0,109.9 344.5,109.9 344.5,123.8 358.8,123.8" fill="none" stroke="#333" stroke-width="0.8" stroke-linejoin="round"/>
<polyline points="303.1,97.8 306.9,99.7 310.1,101.6 312.0,102.2" fill="none" stroke="#cc3560" stroke-width="1.0" stroke-linejoin="round"/>
<polyline points="300.6,93.4 304.4,97.8 307.6,102.8 308.8,106.0" fill="none" stroke="#222" stroke-width="1.2" stroke-linejoin="round"/>
<path d="M234.60 32.42v3.30M235.00 33.04v3.30M235.57 33.91v3.30M236.05 34.64v3.30M236.65 35.57v3.30M237.27 36.51v3.30M237.58 36.98v3.30M237.86 37.41v3.30M238.59 38.53v3.30M239.01 39.16v3.30M239.41 39.78v3.30M240.23 41.03v3.30M240.76 41.84v3.30M241.49 42.96v3.30M242.03 43.78v3.30M242.64 44.74v3.30M242.88 45.34v3.30M243.29 46.40v3.30M243.80 47.67v3.30M244.18 48.62v3.30M244.63 49.77v3.30M245.07 50.86v3.30M245.33 51.36v3.30M245.93 52.46v3.30M246.46 53.42v3.30M246.85 54.12v3.30M247.10 54.59v3.30M247.76 55.78v3.30M248.23 56.64v3.30M248.82 57.70v3.30M249.66 58.79v3.30M250.43 59.73v3.30M251.33 60.83v3.30M251.89 61.53v3.30M252.72 62.54v3.30M253.31 63.27v3.30M254.22 64.38v3.30M255.06 65.48v3.30M255.41 65.96v3.30M255.78 66.47v3.30M256.21 67.05v3.30M257.07 68.23v3.30M257.62 68.99v3.30M258.29 69.90v3.30M258.76 70.55v3.30M259.35 71.36v3.30M259.87 72.08v3.30M260.53 72.61v3.30M261.43 73.21v3.30M262.33 73.81v3.30M263.50 74.60v3.30M264.48 75.26v3.30M265.66 76.05v3.30M266.79 76.81v3.30M268.05 77.61v3.30M269.06 78.20v3.30M269.63 78.53v3.30M270.81 79.21v3.30M272.08 79.94v3.30M273.30 80.65v3.30M274.22 81.18v3.30M275.27 81.79v3.30M275.91 82.10v3.30M277.10 82.70v3.30M278.06 83.18v3.30M278.76 83.53v3.30M279.27 83.78v3.30M280.48 84.39v3.30M281.81 85.06v3.30M282.34 85.32v3.30M283.41 86.04v3.30M284.12 86.62v3.30M284.62 87.02v3.30M285.24 87.52v3.30M286.22 88.32v3.30M287.29 89.19v3.30M287.71 89.53v3.30M288.58 90.23v3.30M289.00 90.57v3.30M290.16 90.93v3.30M290.96 91.14v3.30M292.30 91.49v3.30M293.73 91.86v3.30M294.71 92.12v3.30M296.11 92.61v3.30M296.83 92.98v3.30M297.35 93.24v3.30M298.33 93.73v3.30M298.80 93.97v3.30M299.43 94.29v3.30M300.24 94.70v3.30M301.23 95.20v3.30M301.81 95.50v3.30M302.30 95.74v3.30" stroke="#e8809a" stroke-width="0.7" fill="none"/>
<polyline points="233.5,32.4 242.6,46.3 245.1,52.6 248.9,59.5 254.6,66.5 260.0,73.9 267.6,79.0 275.2,83.4 282.8,87.2 289.1,92.3 295.6,94.0 303.1,97.8" fill="none" stroke="#cf3a64" stroke-width="1.1" stroke-linejoin="round"/>
<polyline points="233.5,32.4 242.6,46.3 250.0,53.5 255.0,58.8 262.6,67.0 270.1,71.4 275.2,75.8 280.2,81.5 289.1,86.5 293.0,88.3 296.8,91.5 300.6,93.4" fill="none" stroke="#151515" stroke-width="1.4" stroke-linejoin="round"/>
<path d="M241.17 42.41v3.40M241.61 43.09v3.40M242.41 44.31v3.40M243.36 45.34v3.40M243.99 45.95v3.40M244.67 46.62v3.40M245.40 47.33v3.40M246.22 48.13v3.40M247.01 48.89v3.40M247.77 49.63v3.40M248.57 50.41v3.40M249.60 51.42v3.40M250.31 52.13v3.40M250.95 52.81v3.40M251.79 53.70v3.40M252.30 54.23v3.40M252.84 54.82v3.40M253.86 55.89v3.40M254.56 56.63v3.40M255.28 57.40v3.40M255.62 57.77v3.40M256.25 58.44v3.40M256.98 59.24v3.40M257.33 59.62v3.40M258.09 60.44v3.40M258.86 61.27v3.40M259.24 61.68v3.40M260.01 62.50v3.40M260.67 63.21v3.40M261.47 64.08v3.40M262.05 64.70v3.40M262.94 65.50v3.40M264.01 66.13v3.40M264.46 66.39v3.40M264.94 66.67v3.40M265.96 67.27v3.40M267.22 68.01v3.40M267.87 68.39v3.40M268.69 68.87v3.40M269.63 69.43v3.40M270.31 69.88v3.40M270.96 70.45v3.40M271.58 70.98v3.40M272.24 71.54v3.40M273.07 72.26v3.40M273.67 72.78v3.40M274.34 73.36v3.40M275.29 74.20v3.40M275.64 74.60v3.40M276.34 75.40v3.40M277.16 76.33v3.40M277.69 76.94v3.40M278.17 77.48v3.40M279.03 78.46v3.40M279.51 79.02v3.40M279.97 79.53v3.40M280.71 80.08v3.40M281.75 80.67v3.40M282.28 80.97v3.40M282.99 81.37v3.40M283.72 81.78v3.40M284.88 82.43v3.40M285.70 82.89v3.40M286.88 83.55v3.40M287.47 83.88v3.40M288.19 84.29v3.40M289.20 84.85v3.40M290.46 85.43v3.40M291.32 85.83v3.40M291.98 86.13v3.40M292.54 86.39v3.40M293.40 86.94v3.40M293.93 87.39v3.40M294.93 88.23v3.40M295.96 89.09v3.40M296.48 89.53v3.40M297.12 89.96v3.40M298.29 90.54v3.40M299.31 91.06v3.40M300.48 91.64v3.40" stroke="#1a1a1a" stroke-width="0.7" fill="none"/>
<polyline points="233.5,32.4 242.6,46.3 245.1,52.6" fill="none" stroke="#d04a70" stroke-width="1.0" stroke-linejoin="round"/>
<path d="M234.05 31.94v2.60M234.60 32.78v2.60M235.29 33.84v2.60M236.43 35.57v2.60M237.10 36.60v2.60M237.85 37.74v2.60M238.65 38.96v2.60M239.45 40.20v2.60M240.25 41.41v2.60M241.50 43.31v2.60M242.07 44.19v2.60M242.51 44.87v2.60M243.39 47.00v2.60M244.21 49.05v2.60M245.09 51.26v2.60" stroke="#e8809a" stroke-width="0.6" fill="none"/>
<line x1="320" y1="100.7" x2="320" y2="103.7" stroke="#e06a8a" stroke-width="0.6"/>
<line x1="328" y1="102.6" x2="328" y2="105.6" stroke="#e06a8a" stroke-width="0.6"/>
<line x1="333" y1="108.6" x2="333" y2="111.6" stroke="#e06a8a" stroke-width="0.6"/>
<line x1="349.6" y1="116.8" x2="349.6" y2="119.8" stroke="#e06a8a" stroke-width="0.6"/>
<line x1="349.6" y1="125.5" x2="349.6" y2="128.5" stroke="#e06a8a" stroke-width="0.6"/>
<line x1="312" y1="104.5" x2="312" y2="107.5" stroke="#111" stroke-width="0.6"/>
<line x1="320" y1="108.4" x2="320" y2="111.4" stroke="#111" stroke-width="0.6"/>
<line x1="328" y1="108.4" x2="328" y2="111.4" stroke="#111" stroke-width="0.6"/>
<line x1="352" y1="122.3" x2="352" y2="125.3" stroke="#111" stroke-width="0.6"/>
<line x1="358.8" y1="122.3" x2="358.8" y2="125.3" stroke="#111" stroke-width="0.6"/>
<text transform="translate(387.4 14.3) scale(0.93 1)" font-size="12.5" fill="#111" stroke="#111" stroke-width="0.28">C</text>
<text x="476.4" y="20.7" font-size="6.7" text-anchor="middle" font-weight="bold" fill="#000" textLength="56.5" lengthAdjust="spacingAndGlyphs" stroke="#000" stroke-width="0.08">EZH2 (203358_s_at)</text>
<rect x="408.6" y="27.8" width="135.7" height="113.7" fill="none" stroke="#a0a0a0" stroke-width="0.8"/>
<text x="541.4" y="36.6" font-size="6.5" text-anchor="end" fill="#000" textLength="63.6" lengthAdjust="spacingAndGlyphs" stroke="#000" stroke-width="0.08">HR = 0.89 (0.73 – 1.08)</text>
<text x="541.4" y="43.2" font-size="6.5" text-anchor="end" fill="#000" textLength="44.2" lengthAdjust="spacingAndGlyphs" stroke="#000" stroke-width="0.08">logrank P = 0.24</text>
<line x1="406.4" y1="137.4" x2="408.6" y2="137.4" stroke="#555" stroke-width="0.6"/>
<text x="403.1" y="137.4" font-size="6.3" text-anchor="middle" fill="#111" transform="rotate(-90 403.1 137.4)" stroke="#111" stroke-width="0.08">0.0</text>
<line x1="406.4" y1="116.2" x2="408.6" y2="116.2" stroke="#555" stroke-width="0.6"/>
<text x="403.1" y="116.2" font-size="6.3" text-anchor="middle" fill="#111" transform="rotate(-90 403.1 116.2)" stroke="#111" stroke-width="0.08">0.2</text>
<line x1="406.4" y1="95.0" x2="408.6" y2="95.0" stroke="#555" stroke-width="0.6"/>
<text x="403.1" y="95.0" font-size="6.3" text-anchor="middle" fill="#111" transform="rotate(-90 403.1 95.0)" stroke="#111" stroke-width="0.08">0.4</text>
<line x1="406.4" y1="73.80000000000001" x2="408.6" y2="73.80000000000001" stroke="#555" stroke-width="0.6"/>
<text x="403.1" y="73.80000000000001" font-size="6.3" text-anchor="middle" fill="#111" transform="rotate(-90 403.1 73.80000000000001)" stroke="#111" stroke-width="0.08">0.6</text>
<line x1="406.4" y1="52.60000000000001" x2="408.6" y2="52.60000000000001" stroke="#555" stroke-width="0.6"/>
<text x="403.1" y="52.60000000000001" font-size="6.3" text-anchor="middle" fill="#111" transform="rotate(-90 403.1 52.60000000000001)" stroke="#111" stroke-width="0.08">0.8</text>
<line x1="406.4" y1="31.400000000000006" x2="408.6" y2="31.400000000000006" stroke="#555" stroke-width="0.6"/>
<text x="403.1" y="31.400000000000006" font-size="6.3" text-anchor="middle" fill="#111" transform="rotate(-90 403.1 31.400000000000006)" stroke="#111" stroke-width="0.08">1.0</text>
<text x="391.29999999999995" y="88.7" font-size="7.0" text-anchor="middle" fill="#111" transform="rotate(-90 391.29999999999995 88.7)" stroke="#111" stroke-width="0.08">Percent survival</text>
<line x1="413.6" y1="141.5" x2="413.6" y2="143.6" stroke="#555" stroke-width="0.6"/>
<text x="413.6" y="151.2" font-size="6.2" text-anchor="middle" fill="#111" stroke="#111" stroke-width="0.08">0</text>
<line x1="438.0" y1="141.5" x2="438.0" y2="143.6" stroke="#555" stroke-width="0.6"/>
<text x="438.0" y="151.2" font-size="6.2" text-anchor="middle" fill="#111" stroke="#111" stroke-width="0.08">50</text>
<line x1="462.40000000000003" y1="141.5" x2="462.40000000000003" y2="143.6" stroke="#555" stroke-width="0.6"/>
<text x="462.40000000000003" y="151.2" font-size="6.2" text-anchor="middle" fill="#111" stroke="#111" stroke-width="0.08">100</text>
<line x1="486.8" y1="141.5" x2="486.8" y2="143.6" stroke="#555" stroke-width="0.6"/>
<text x="486.8" y="151.2" font-size="6.2" text-anchor="middle" fill="#111" stroke="#111" stroke-width="0.08">150</text>
<line x1="511.20000000000005" y1="141.5" x2="511.20000000000005" y2="143.6" stroke="#555" stroke-width="0.6"/>
<text x="511.20000000000005" y="151.2" font-size="6.2" text-anchor="middle" fill="#111" stroke="#111" stroke-width="0.08">200</text>
<line x1="535.6" y1="141.5" x2="535.6" y2="143.6" stroke="#555" stroke-width="0.6"/>
<text x="535.6" y="151.2" font-size="6.2" text-anchor="middle" fill="#111" stroke="#111" stroke-width="0.08">250</text>
<text x="476.70000000000005" y="160.4" font-size="6.15" text-anchor="middle" fill="#111" stroke="#111" stroke-width="0.08">Time (months)</text>
<text x="411.7" y="122.2" font-size="6.3" text-anchor="start" fill="#111" stroke="#111" stroke-width="0.08">Expression</text>
<line x1="413.7" y1="128.7" x2="425.4" y2="128.7" stroke="#444" stroke-width="0.6"/>
<line x1="413.7" y1="135.3" x2="425.4" y2="135.3" stroke="#e8809a" stroke-width="0.6"/>
<text x="430.4" y="130.4" font-size="6.2" text-anchor="start" fill="#111" stroke="#111" stroke-width="0.08">low</text>
<text x="430.4" y="136.8" font-size="6.2" text-anchor="start" fill="#111" stroke="#111" stroke-width="0.08">high</text>
<text x="443.20000000000005" y="130.4" font-size="5.0" text-anchor="start" fill="#111" stroke="#111" stroke-width="0.08">(n=390)</text>
<text x="443.20000000000005" y="136.8" font-size="5.0" text-anchor="start" fill="#e02020" stroke="#e02020" stroke-width="0.08">(n=390)</text>
<polyline points="482.0,113.3 498.3,113.3 498.3,115.6 522.0,115.6" fill="none" stroke="#e37d98" stroke-width="0.75" stroke-linejoin="round"/>
<polyline points="478.3,113.3 498.3,113.3 498.3,121.3 525.8,121.3 525.8,129.6 540.0,129.6" fill="none" stroke="#333" stroke-width="0.8" stroke-linejoin="round"/>
<polyline points="471.4,106.0 476.0,109.5 479.4,110.3 482.0,113.3" fill="none" stroke="#cc3560" stroke-width="1.0" stroke-linejoin="round"/>
<polyline points="466.4,104.0 471.4,106.6 475.2,110.2 478.3,113.3" fill="none" stroke="#222" stroke-width="1.2" stroke-linejoin="round"/>
<path d="M414.67 32.55v3.30M414.99 33.22v3.30M415.44 34.16v3.30M415.82 34.94v3.30M416.30 35.93v3.30M416.75 36.97v3.30M416.96 37.49v3.30M417.15 37.97v3.30M417.64 39.21v3.30M417.93 39.92v3.30M418.20 40.60v3.30M418.72 42.00v3.30M419.02 42.92v3.30M419.45 44.19v3.30M419.75 45.11v3.30M420.12 46.20v3.30M420.32 46.81v3.30M420.71 47.88v3.30M421.22 49.15v3.30M421.60 50.10v3.30M422.06 51.25v3.30M422.50 52.34v3.30M422.70 52.86v3.30M423.17 54.03v3.30M423.55 55.05v3.30M423.74 55.83v3.30M423.87 56.34v3.30M424.20 57.67v3.30M424.44 58.61v3.30M424.74 59.79v3.30M425.16 61.09v3.30M425.83 62.11v3.30M426.61 63.29v3.30M427.10 64.04v3.30M427.82 65.13v3.30M428.33 65.92v3.30M429.12 67.12v3.30M429.88 68.27v3.30M430.23 68.76v3.30M430.60 69.27v3.30M431.03 69.84v3.30M431.90 71.02v3.30M432.46 71.78v3.30M433.13 72.68v3.30M433.60 73.33v3.30M434.20 74.14v3.30M434.73 74.85v3.30M435.26 75.51v3.30M436.02 76.29v3.30M436.78 77.06v3.30M437.76 78.06v3.30M438.59 78.91v3.30M439.59 79.93v3.30M440.59 80.84v3.30M441.77 81.75v3.30M442.69 82.47v3.30M443.21 82.88v3.30M444.29 83.72v3.30M445.44 84.62v3.30M446.54 85.49v3.30M447.34 86.21v3.30M448.24 87.02v3.30M448.76 87.50v3.30M449.75 88.39v3.30M450.55 89.11v3.30M451.13 89.64v3.30M451.55 90.02v3.30M452.55 90.93v3.30M453.66 91.93v3.30M454.09 92.32v3.30M455.06 93.19v3.30M455.73 93.80v3.30M456.22 94.24v3.30M456.80 94.77v3.30M457.75 95.62v3.30M458.76 96.55v3.30M459.17 96.90v3.30M460.09 97.53v3.30M460.54 97.84v3.30M461.55 98.53v3.30M462.23 99.00v3.30M463.37 99.78v3.30M464.59 100.61v3.30M465.42 101.18v3.30M466.68 101.99v3.30M467.41 102.35v3.30M467.92 102.61v3.30M468.91 103.10v3.30M469.38 103.34v3.30M470.01 103.65v3.30M470.82 104.06v3.30" stroke="#e8809a" stroke-width="0.7" fill="none"/>
<polyline points="413.8,32.4 416.5,38.0 418.5,43.0 420.5,49.0 423.5,56.5 425.0,62.5 430.0,70.1 435.1,77.0 440.1,82.1 446.5,87.1 452.8,92.8 459.1,98.5 466.4,103.5 471.4,106.0" fill="none" stroke="#cf3a64" stroke-width="1.1" stroke-linejoin="round"/>
<polyline points="413.8,32.4 415.7,38.1 416.9,43.1 418.8,49.5 421.4,57.0 425.0,65.0 430.0,72.6 432.6,78.3 437.6,83.3 443.9,87.8 450.2,95.3 455.3,98.5 460.0,100.0 466.4,104.0" fill="none" stroke="#151515" stroke-width="1.4" stroke-linejoin="round"/>
<path d="M417.71 44.13v3.40M417.90 44.76v3.40M418.05 45.28v3.40M418.44 46.59v3.40M418.67 47.37v3.40M419.13 48.76v3.40M419.59 50.08v3.40M419.88 50.91v3.40M420.19 51.81v3.40M420.53 52.78v3.40M420.90 53.86v3.40M421.26 54.89v3.40M421.66 55.87v3.40M422.12 56.89v3.40M422.71 58.21v3.40M423.12 59.13v3.40M423.50 59.98v3.40M424.00 61.09v3.40M424.31 61.76v3.40M424.64 62.49v3.40M425.33 63.79v3.40M425.89 64.65v3.40M426.46 65.52v3.40M426.74 65.95v3.40M427.25 66.71v3.40M427.84 67.62v3.40M428.13 68.05v3.40M428.74 68.98v3.40M429.36 69.93v3.40M429.67 70.40v3.40M430.22 71.38v3.40M430.62 72.26v3.40M431.11 73.33v3.40M431.46 74.11v3.40M431.96 75.20v3.40M432.48 76.33v3.40M432.76 76.76v3.40M433.16 77.16v3.40M433.99 77.99v3.40M435.02 79.02v3.40M435.55 79.55v3.40M436.23 80.23v3.40M437.00 81.00v3.40M437.58 81.58v3.40M438.28 82.09v3.40M438.94 82.56v3.40M439.65 83.07v3.40M440.54 83.70v3.40M441.19 84.17v3.40M441.91 84.68v3.40M442.94 85.42v3.40M443.37 85.72v3.40M444.17 86.42v3.40M444.96 87.37v3.40M445.49 87.99v3.40M445.95 88.54v3.40M446.79 89.54v3.40M447.26 90.11v3.40M447.71 90.63v3.40M448.31 91.35v3.40M449.08 92.26v3.40M449.47 92.73v3.40M449.99 93.36v3.40M450.64 93.87v3.40M451.77 94.58v3.40M452.56 95.08v3.40M453.71 95.80v3.40M454.28 96.16v3.40M454.98 96.60v3.40M456.04 97.04v3.40M457.36 97.46v3.40M458.27 97.75v3.40M458.96 97.97v3.40M459.55 98.16v3.40M460.47 98.59v3.40M461.06 98.96v3.40M462.16 99.65v3.40M463.30 100.36v3.40M463.88 100.72v3.40M464.54 101.14v3.40M465.65 101.83v3.40" stroke="#1a1a1a" stroke-width="0.7" fill="none"/>
<polyline points="413.8,32.4 416.5,38.0 418.5,43.0" fill="none" stroke="#d04a70" stroke-width="1.0" stroke-linejoin="round"/>
<path d="M414.23 32.00v2.60M415.14 33.88v2.60M415.73 35.10v2.60M416.17 36.01v2.60M416.69 37.16v2.60M417.45 39.09v2.60M417.91 40.23v2.60M418.42 41.49v2.60" stroke="#e8809a" stroke-width="0.6" fill="none"/>
<line x1="503.0" y1="114.1" x2="503.0" y2="117.1" stroke="#e06a8a" stroke-width="0.6"/>
<line x1="512.0" y1="114.1" x2="512.0" y2="117.1" stroke="#e06a8a" stroke-width="0.6"/>
<line x1="522.0" y1="114.1" x2="522.0" y2="117.1" stroke="#e06a8a" stroke-width="0.6"/>
<line x1="479.4" y1="108.8" x2="479.4" y2="111.8" stroke="#e06a8a" stroke-width="0.6"/>
<line x1="483.0" y1="111.8" x2="483.0" y2="114.8" stroke="#111" stroke-width="0.6"/>
<line x1="487.0" y1="111.8" x2="487.0" y2="114.8" stroke="#111" stroke-width="0.6"/>
<line x1="491.0" y1="111.8" x2="491.0" y2="114.8" stroke="#111" stroke-width="0.6"/>
<line x1="540.0" y1="128.1" x2="540.0" y2="131.1" stroke="#111" stroke-width="0.6"/>
<text transform="translate(86.9 186.8) scale(0.93 1)" font-size="12.3" fill="#111" stroke="#111" stroke-width="0.45">D</text>
<text x="132.6" y="221.6" font-size="8.2" text-anchor="start" fill="#111" transform="rotate(-55 132.6 221.6)" stroke="#111" stroke-width="0.08">A549</text>
<text x="154.4" y="221.5" font-size="8.2" text-anchor="start" fill="#111" transform="rotate(-55 154.4 221.5)" stroke="#111" stroke-width="0.08">Calu3</text>
<text x="178.9" y="221.7" font-size="8.2" text-anchor="start" fill="#111" transform="rotate(-55 178.9 221.7)" stroke="#111" stroke-width="0.08">H2122</text>
<text x="89.2" y="236.3" font-size="8.2" text-anchor="start" fill="#111" stroke="#111" stroke-width="0.08">EZH2</text>
<text x="87.6" y="259.6" font-size="8.2" text-anchor="start" fill="#111" stroke="#111" stroke-width="0.08">β-actin</text>
<text x="195.3" y="235.3" font-size="6.9" text-anchor="start" fill="#111" stroke="#111" stroke-width="0.08">- 98kDa</text>
<text x="195.3" y="259.2" font-size="6.9" text-anchor="start" fill="#111" stroke="#111" stroke-width="0.08">- 43kDa</text>
<defs><filter id="bl" x="-20%" y="-80%" width="140%" height="260%"><feGaussianBlur stdDeviation="0.75"/></filter><linearGradient id="fade" x1="0" y1="0" x2="1" y2="0"><stop offset="0" stop-color="#111"/><stop offset="0.6" stop-color="#222"/><stop offset="1" stop-color="#555"/></linearGradient><linearGradient id="bg1" x1="0" y1="0" x2="0" y2="1"><stop offset="0" stop-color="#e8e8e8"/><stop offset="0.35" stop-color="#fafafa"/><stop offset="1" stop-color="#fff"/></linearGradient></defs>
<rect x="118" y="223.5" width="73.5" height="19" fill="url(#bg1)" stroke="#444" stroke-width="0.85"/>
<rect x="118" y="246.5" width="73.5" height="19" fill="url(#bg1)" stroke="#444" stroke-width="0.85"/>
<rect x="125.5" y="236" width="17" height="4" fill="#999" filter="url(#bl)" opacity="0.6"/>
<rect x="167.5" y="236" width="17" height="3.5" fill="#999" filter="url(#bl)" opacity="0.5"/>
<rect x="145" y="259" width="17" height="4" fill="#777" filter="url(#bl)" opacity="0.6"/>
<rect x="124.1" y="231.10000000000002" width="19.80000000000001" height="7.800000000000001" rx="3.7" fill="#bbb" opacity="0.55" filter="url(#bl)"/>
<rect x="124.89999999999999" y="232.3" width="18.20000000000001" height="5.4" rx="1.3" fill="#0a0a0a" filter="url(#bl)"/>
<rect x="145.8" y="232.8" width="18.399999999999977" height="6.199999999999999" rx="2.9" fill="#bbb" opacity="0.55" filter="url(#bl)"/>
<rect x="146.60000000000002" y="234.0" width="16.799999999999976" height="3.8" rx="1.3" fill="#0a0a0a" filter="url(#bl)"/>
<rect x="166.1" y="231.10000000000002" width="19.5" height="7.6" rx="3.6" fill="#bbb" opacity="0.55" filter="url(#bl)"/>
<rect x="166.9" y="232.3" width="17.9" height="5.2" rx="1.3" fill="#0a0a0a" filter="url(#bl)"/>
<rect x="124.0" y="254.00000000000003" width="18.400000000000006" height="6.6" rx="3.1" fill="#bbb" opacity="0.55" filter="url(#bl)"/>
<rect x="124.8" y="255.20000000000002" width="16.800000000000004" height="4.2" rx="1.3" fill="#0a0a0a" filter="url(#bl)"/>
<rect x="142.9" y="254.0" width="19.900000000000006" height="8.8" rx="4.2" fill="#bbb" opacity="0.55" filter="url(#bl)"/>
<rect x="143.70000000000002" y="255.2" width="18.300000000000004" height="6.4" rx="1.3" fill="#0a0a0a" filter="url(#bl)"/>
<rect x="164.7" y="253.89999999999998" width="19.200000000000017" height="6.0" rx="2.8" fill="#bbb" opacity="0.55" filter="url(#bl)"/>
<rect x="165.5" y="255.09999999999997" width="17.600000000000016" height="3.6" rx="1.3" fill="url(#fade)" filter="url(#bl)"/>
<line x1="256.7" y1="203.02" x2="256.7" y2="291.5" stroke="#222" stroke-width="1"/>
<line x1="256.2" y1="291.5" x2="318.4" y2="291.5" stroke="#222" stroke-width="1"/>
<line x1="254.4" y1="291.5" x2="256.7" y2="291.5" stroke="#222" stroke-width="0.8"/>
<text x="253.5" y="293.4" font-size="6.2" text-anchor="end" font-weight="bold" fill="#111" stroke="#111" stroke-width="0.2">0.0</text>
<line x1="254.4" y1="269.48" x2="256.7" y2="269.48" stroke="#222" stroke-width="0.8"/>
<text x="253.5" y="271.38" font-size="6.2" text-anchor="end" font-weight="bold" fill="#111" stroke="#111" stroke-width="0.2">0.5</text>
<line x1="254.4" y1="247.46" x2="256.7" y2="247.46" stroke="#222" stroke-width="0.8"/>
<text x="253.5" y="249.36" font-size="6.2" text-anchor="end" font-weight="bold" fill="#111" stroke="#111" stroke-width="0.2">1.0</text>
<line x1="254.4" y1="225.44" x2="256.7" y2="225.44" stroke="#222" stroke-width="0.8"/>
<text x="253.5" y="227.34" font-size="6.2" text-anchor="end" font-weight="bold" fill="#111" stroke="#111" stroke-width="0.2">1.5</text>
<line x1="254.4" y1="203.42000000000002" x2="256.7" y2="203.42000000000002" stroke="#222" stroke-width="0.8"/>
<text x="253.5" y="205.32000000000002" font-size="6.2" text-anchor="end" font-weight="bold" fill="#111" stroke="#111" stroke-width="0.2">2.0</text>
<text x="240.5" y="246.7" font-size="5.6" text-anchor="middle" fill="#111" transform="rotate(-90 240.5 246.7)" textLength="35.5" lengthAdjust="spacingAndGlyphs" stroke="#111" stroke-width="0.1">EZH2/β-actin</text>
<rect x="260.3" y="222.0" width="13.599999999999966" height="69.5" fill="#1f7f62"/>
<rect x="281.0" y="260.0" width="14.0" height="31.5" fill="#36cd98"/>
<rect x="302.0" y="212.3" width="13.899999999999977" height="79.19999999999999" fill="#66baf4"/>
<line x1="267.1" y1="291.5" x2="267.1" y2="293.5" stroke="#222" stroke-width="0.8"/>
<line x1="288.0" y1="291.5" x2="288.0" y2="293.5" stroke="#222" stroke-width="0.8"/>
<line x1="309.0" y1="291.5" x2="309.0" y2="293.5" stroke="#222" stroke-width="0.8"/>
<text x="268.70000000000005" y="297.8" font-size="6.2" text-anchor="end" font-weight="bold" fill="#111" transform="rotate(-45 268.70000000000005 297.8)" stroke="#111" stroke-width="0.15">A549</text>
<text x="289.6" y="297.8" font-size="6.2" text-anchor="end" font-weight="bold" fill="#111" transform="rotate(-45 289.6 297.8)" stroke="#111" stroke-width="0.15">Calu3</text>
<text x="310.6" y="297.8" font-size="6.2" text-anchor="end" font-weight="bold" fill="#111" transform="rotate(-45 310.6 297.8)" stroke="#111" stroke-width="0.15">H2122</text>
<text transform="translate(353.2 188.9) scale(0.9 1)" font-size="12.8" fill="#111" stroke="#111" stroke-width="0.28">E</text>
<line x1="389.3" y1="196.46" x2="389.3" y2="291.5" stroke="#222" stroke-width="1"/>
<line x1="388.8" y1="291.5" x2="446.2" y2="291.5" stroke="#222" stroke-width="1"/>
<line x1="387" y1="291.5" x2="389.3" y2="291.5" stroke="#222" stroke-width="0.8"/>
<text x="385.7" y="293.3" font-size="5.7" text-anchor="end" font-weight="bold" fill="#111" textLength="13.4" lengthAdjust="spacingAndGlyphs" stroke="#111" stroke-width="0.2">0.000</text>
<line x1="387" y1="267.84" x2="389.3" y2="267.84" stroke="#222" stroke-width="0.8"/>
<text x="385.7" y="269.64" font-size="5.7" text-anchor="end" font-weight="bold" fill="#111" textLength="13.4" lengthAdjust="spacingAndGlyphs" stroke="#111" stroke-width="0.2">0.001</text>
<line x1="387" y1="244.18" x2="389.3" y2="244.18" stroke="#222" stroke-width="0.8"/>
<text x="385.7" y="245.98000000000002" font-size="5.7" text-anchor="end" font-weight="bold" fill="#111" textLength="13.4" lengthAdjust="spacingAndGlyphs" stroke="#111" stroke-width="0.2">0.002</text>
<line x1="387" y1="220.51999999999998" x2="389.3" y2="220.51999999999998" stroke="#222" stroke-width="0.8"/>
<text x="385.7" y="222.32" font-size="5.7" text-anchor="end" font-weight="bold" fill="#111" textLength="13.4" lengthAdjust="spacingAndGlyphs" stroke="#111" stroke-width="0.2">0.003</text>
<line x1="387" y1="196.86" x2="389.3" y2="196.86" stroke="#222" stroke-width="0.8"/>
<text x="385.7" y="198.66000000000003" font-size="5.7" text-anchor="end" font-weight="bold" fill="#111" textLength="13.4" lengthAdjust="spacingAndGlyphs" stroke="#111" stroke-width="0.2">0.004</text>
<text x="367.8" y="240.4" font-size="6.0" text-anchor="middle" font-style="italic" fill="#111" transform="rotate(-90 367.8 240.4)" textLength="38.8" lengthAdjust="spacingAndGlyphs" stroke="#111" stroke-width="0.1">EZH2/ACTB (a.u)</text>
<rect x="392.5" y="257.8" width="12.600000000000023" height="33.69999999999999" fill="#1f7f62" stroke="#222" stroke-width="0.5"/>
<line x1="398.8" y1="259.6" x2="398.8" y2="256.2" stroke="#222" stroke-width="0.6"/>
<line x1="396.2" y1="256.2" x2="401.40000000000003" y2="256.2" stroke="#222" stroke-width="0.6"/>
<line x1="396.2" y1="259.6" x2="401.40000000000003" y2="259.6" stroke="#222" stroke-width="0.6"/>
<rect x="411.4" y="225.0" width="12.600000000000023" height="66.5" fill="#36cd98" stroke="#222" stroke-width="0.5"/>
<line x1="417.7" y1="230.6" x2="417.7" y2="219.4" stroke="#222" stroke-width="0.6"/>
<line x1="414.09999999999997" y1="219.4" x2="421.3" y2="219.4" stroke="#222" stroke-width="0.6"/>
<line x1="414.09999999999997" y1="230.6" x2="421.3" y2="230.6" stroke="#222" stroke-width="0.6"/>
<rect x="429.9" y="244.7" width="12.600000000000023" height="46.80000000000001" fill="#66baf4" stroke="#222" stroke-width="0.5"/>
<line x1="436.2" y1="244.8" x2="436.2" y2="244.2" stroke="#222" stroke-width="0.6"/>
<line x1="433.59999999999997" y1="244.2" x2="438.8" y2="244.2" stroke="#222" stroke-width="0.6"/>
<line x1="433.59999999999997" y1="244.8" x2="438.8" y2="244.8" stroke="#222" stroke-width="0.6"/>
<line x1="398.8" y1="291.5" x2="398.8" y2="293.5" stroke="#222" stroke-width="0.8"/>
<line x1="417.7" y1="291.5" x2="417.7" y2="293.5" stroke="#222" stroke-width="0.8"/>
<line x1="436.2" y1="291.5" x2="436.2" y2="293.5" stroke="#222" stroke-width="0.8"/>
<text x="400.40000000000003" y="297.7" font-size="5.9" text-anchor="end" font-weight="bold" fill="#111" transform="rotate(-45 400.40000000000003 297.7)" stroke="#111" stroke-width="0.15">A549</text>
<text x="419.3" y="297.7" font-size="5.9" text-anchor="end" font-weight="bold" fill="#111" transform="rotate(-45 419.3 297.7)" stroke="#111" stroke-width="0.15">Calu3</text>
<text x="437.8" y="297.7" font-size="5.9" text-anchor="end" font-weight="bold" fill="#111" transform="rotate(-45 437.8 297.7)" stroke="#111" stroke-width="0.15">H2122</text>
</svg>
</body></html>
